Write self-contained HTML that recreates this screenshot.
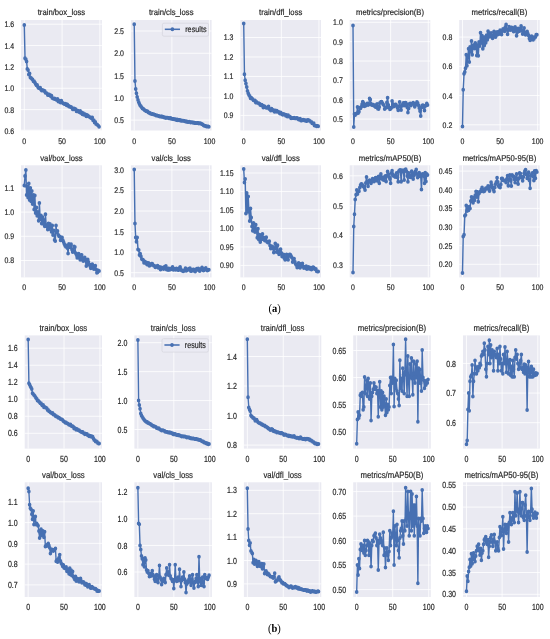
<!DOCTYPE html>
<html lang="en"><head><meta charset="utf-8"><title>Training results</title>
<style>html,body{margin:0;padding:0;background:#fff}body{width:550px;height:639px;overflow:hidden}</style>
</head><body>
<svg width="550" height="639" viewBox="0 0 550 639" style="display:block">
<rect width="550" height="639" fill="#ffffff"/>
<g font-family="'Liberation Sans', Arial, sans-serif" fill="#262626" stroke="#262626" stroke-width="0.18" text-rendering="geometricPrecision">
<g>
<rect x="21.00" y="20.00" width="80.90" height="110.50" fill="#eaeaf2" stroke="none"/>
<path d="M24.30 20.00V130.50M62.08 20.00V130.50M99.86 20.00V130.50M21.00 130.20H101.90M21.00 109.64H101.90M21.00 88.28H101.90M21.00 66.92H101.90M21.00 45.56H101.90M21.00 24.20H101.90" stroke="#ffffff" stroke-width="0.8" fill="none"/>
<g transform="scale(0.92 1)" fill="none" stroke="#4770b2" stroke-linecap="round" stroke-linejoin="round">
<polyline points="26.4,25.1 27.2,58.3 28.1,59.2 28.9,61.6 29.7,68.9 30.5,70.0 31.3,74.4 32.2,73.5 33.0,77.6 33.8,78.0 34.6,78.8 35.4,79.5 36.3,81.2 37.1,81.3 37.9,82.5 38.7,84.0 39.6,85.2 40.4,85.1 41.2,86.9 42.0,88.1 42.8,88.0 43.7,87.8 44.5,89.5 45.3,90.4 46.1,90.3 46.9,90.3 47.8,91.0 48.6,91.1 49.4,92.8 50.2,93.1 51.1,93.6 51.9,95.0 52.7,95.1 53.5,94.5 54.3,95.1 55.2,96.3 56.0,95.7 56.8,98.1 57.6,98.3 58.4,98.7 59.3,98.5 60.1,99.2 60.9,99.2 61.7,99.9 62.5,99.1 63.4,101.4 64.2,101.3 65.0,100.8 65.8,102.5 66.7,100.8 67.5,102.4 68.3,102.9 69.1,103.6 69.9,104.0 70.8,103.8 71.6,104.0 72.4,105.3 73.2,104.4 74.0,105.6 74.9,106.6 75.7,106.6 76.5,106.9 77.3,107.1 78.2,107.7 79.0,109.2 79.8,109.2 80.6,108.6 81.4,109.0 82.3,109.2 83.1,111.2 83.9,111.1 84.7,110.8 85.5,111.7 86.4,112.3 87.2,110.9 88.0,112.9 88.8,112.5 89.6,114.2 90.5,113.3 91.3,114.8 92.1,114.3 92.9,114.4 93.8,116.3 94.6,115.1 95.4,115.5 96.2,116.2 97.0,116.8 97.9,117.2 98.7,117.8 99.5,118.2 100.3,117.4 101.1,120.2 102.0,120.2 102.8,122.5 103.6,122.0 104.4,123.9 105.3,124.6 106.1,125.1 106.9,125.8 107.7,126.7" stroke-width="1.55"/>
<path d="M26.4 25.1h0M27.2 58.3h0M28.1 59.2h0M28.9 61.6h0M29.7 68.9h0M30.5 70.0h0M31.3 74.4h0M32.2 73.5h0M33.0 77.6h0M33.8 78.0h0M34.6 78.8h0M35.4 79.5h0M36.3 81.2h0M37.1 81.3h0M37.9 82.5h0M38.7 84.0h0M39.6 85.2h0M40.4 85.1h0M41.2 86.9h0M42.0 88.1h0M42.8 88.0h0M43.7 87.8h0M44.5 89.5h0M45.3 90.4h0M46.1 90.3h0M46.9 90.3h0M47.8 91.0h0M48.6 91.1h0M49.4 92.8h0M50.2 93.1h0M51.1 93.6h0M51.9 95.0h0M52.7 95.1h0M53.5 94.5h0M54.3 95.1h0M55.2 96.3h0M56.0 95.7h0M56.8 98.1h0M57.6 98.3h0M58.4 98.7h0M59.3 98.5h0M60.1 99.2h0M60.9 99.2h0M61.7 99.9h0M62.5 99.1h0M63.4 101.4h0M64.2 101.3h0M65.0 100.8h0M65.8 102.5h0M66.7 100.8h0M67.5 102.4h0M68.3 102.9h0M69.1 103.6h0M69.9 104.0h0M70.8 103.8h0M71.6 104.0h0M72.4 105.3h0M73.2 104.4h0M74.0 105.6h0M74.9 106.6h0M75.7 106.6h0M76.5 106.9h0M77.3 107.1h0M78.2 107.7h0M79.0 109.2h0M79.8 109.2h0M80.6 108.6h0M81.4 109.0h0M82.3 109.2h0M83.1 111.2h0M83.9 111.1h0M84.7 110.8h0M85.5 111.7h0M86.4 112.3h0M87.2 110.9h0M88.0 112.9h0M88.8 112.5h0M89.6 114.2h0M90.5 113.3h0M91.3 114.8h0M92.1 114.3h0M92.9 114.4h0M93.8 116.3h0M94.6 115.1h0M95.4 115.5h0M96.2 116.2h0M97.0 116.8h0M97.9 117.2h0M98.7 117.8h0M99.5 118.2h0M100.3 117.4h0M101.1 120.2h0M102.0 120.2h0M102.8 122.5h0M103.6 122.0h0M104.4 123.9h0M105.3 124.6h0M106.1 125.1h0M106.9 125.8h0M107.7 126.7h0" stroke-width="4.0"/>
</g>
<g font-size="8.2" text-anchor="end">
<text transform="translate(14.10 133.95) scale(0.85 1)">0.6</text>
<text transform="translate(14.10 112.59) scale(0.85 1)">0.8</text>
<text transform="translate(14.10 91.23) scale(0.85 1)">1.0</text>
<text transform="translate(14.10 69.87) scale(0.85 1)">1.2</text>
<text transform="translate(14.10 48.51) scale(0.85 1)">1.4</text>
<text transform="translate(14.10 27.15) scale(0.85 1)">1.6</text>
</g>
<g font-size="8.2" text-anchor="middle">
<text transform="translate(24.30 144.20) scale(0.85 1)">0</text>
<text transform="translate(62.08 144.20) scale(0.85 1)">50</text>
<text transform="translate(99.86 144.20) scale(0.85 1)">100</text>
</g>
<text transform="translate(61.45 14.80) scale(0.92 1)" font-size="8.4" text-anchor="middle">train/box_loss</text>
</g>
<g>
<rect x="130.90" y="20.00" width="80.70" height="110.50" fill="#eaeaf2" stroke="none"/>
<path d="M134.20 20.00V130.50M171.88 20.00V130.50M209.55 20.00V130.50M130.90 120.10H211.60M130.90 97.82H211.60M130.90 75.55H211.60M130.90 53.27H211.60M130.90 31.00H211.60" stroke="#ffffff" stroke-width="0.8" fill="none"/>
<g transform="scale(0.92 1)" fill="none" stroke="#4770b2" stroke-linecap="round" stroke-linejoin="round">
<polyline points="145.9,24.2 146.7,80.9 147.5,88.9 148.3,93.3 149.1,96.9 150.0,100.1 150.8,102.2 151.6,104.0 152.4,105.6 153.2,106.3 154.1,107.6 154.9,108.4 155.7,108.8 156.5,109.6 157.3,110.3 158.2,110.7 159.0,111.2 159.8,111.3 160.6,111.6 161.4,112.4 162.3,113.0 163.1,112.9 163.9,113.8 164.7,114.0 165.5,114.1 166.3,114.2 167.2,114.5 168.0,114.8 168.8,115.0 169.6,115.4 170.4,115.6 171.3,115.8 172.1,116.1 172.9,116.3 173.7,116.5 174.5,116.4 175.4,116.7 176.2,116.6 177.0,117.0 177.8,116.9 178.6,117.5 179.5,117.5 180.3,117.9 181.1,117.8 181.9,117.8 182.7,118.1 183.5,118.2 184.4,118.2 185.2,118.1 186.0,118.7 186.8,118.8 187.6,119.0 188.5,119.0 189.3,119.3 190.1,119.3 190.9,119.4 191.7,119.9 192.6,119.5 193.4,120.2 194.2,120.1 195.0,120.3 195.8,120.1 196.7,120.7 197.5,120.7 198.3,120.7 199.1,120.8 199.9,121.1 200.7,120.9 201.6,121.6 202.4,121.7 203.2,121.6 204.0,121.9 204.8,122.1 205.7,121.7 206.5,121.9 207.3,122.6 208.1,122.2 208.9,122.2 209.8,122.7 210.6,122.4 211.4,122.9 212.2,123.0 213.0,123.0 213.9,123.0 214.7,123.1 215.5,123.2 216.3,123.5 217.1,123.2 217.9,123.4 218.8,123.7 219.6,124.3 220.4,124.5 221.2,125.2 222.0,125.7 222.9,125.9 223.7,126.1 224.5,126.6 225.3,126.6 226.1,126.5 227.0,126.8" stroke-width="1.55"/>
<path d="M145.9 24.2h0M146.7 80.9h0M147.5 88.9h0M148.3 93.3h0M149.1 96.9h0M150.0 100.1h0M150.8 102.2h0M151.6 104.0h0M152.4 105.6h0M153.2 106.3h0M154.1 107.6h0M154.9 108.4h0M155.7 108.8h0M156.5 109.6h0M157.3 110.3h0M158.2 110.7h0M159.0 111.2h0M159.8 111.3h0M160.6 111.6h0M161.4 112.4h0M162.3 113.0h0M163.1 112.9h0M163.9 113.8h0M164.7 114.0h0M165.5 114.1h0M166.3 114.2h0M167.2 114.5h0M168.0 114.8h0M168.8 115.0h0M169.6 115.4h0M170.4 115.6h0M171.3 115.8h0M172.1 116.1h0M172.9 116.3h0M173.7 116.5h0M174.5 116.4h0M175.4 116.7h0M176.2 116.6h0M177.0 117.0h0M177.8 116.9h0M178.6 117.5h0M179.5 117.5h0M180.3 117.9h0M181.1 117.8h0M181.9 117.8h0M182.7 118.1h0M183.5 118.2h0M184.4 118.2h0M185.2 118.1h0M186.0 118.7h0M186.8 118.8h0M187.6 119.0h0M188.5 119.0h0M189.3 119.3h0M190.1 119.3h0M190.9 119.4h0M191.7 119.9h0M192.6 119.5h0M193.4 120.2h0M194.2 120.1h0M195.0 120.3h0M195.8 120.1h0M196.7 120.7h0M197.5 120.7h0M198.3 120.7h0M199.1 120.8h0M199.9 121.1h0M200.7 120.9h0M201.6 121.6h0M202.4 121.7h0M203.2 121.6h0M204.0 121.9h0M204.8 122.1h0M205.7 121.7h0M206.5 121.9h0M207.3 122.6h0M208.1 122.2h0M208.9 122.2h0M209.8 122.7h0M210.6 122.4h0M211.4 122.9h0M212.2 123.0h0M213.0 123.0h0M213.9 123.0h0M214.7 123.1h0M215.5 123.2h0M216.3 123.5h0M217.1 123.2h0M217.9 123.4h0M218.8 123.7h0M219.6 124.3h0M220.4 124.5h0M221.2 125.2h0M222.0 125.7h0M222.9 125.9h0M223.7 126.1h0M224.5 126.6h0M225.3 126.6h0M226.1 126.5h0M227.0 126.8h0" stroke-width="4.0"/>
</g>
<g font-size="8.2" text-anchor="end">
<text transform="translate(124.00 123.05) scale(0.85 1)">0.5</text>
<text transform="translate(124.00 100.78) scale(0.85 1)">1.0</text>
<text transform="translate(124.00 78.50) scale(0.85 1)">1.5</text>
<text transform="translate(124.00 56.23) scale(0.85 1)">2.0</text>
<text transform="translate(124.00 33.95) scale(0.85 1)">2.5</text>
</g>
<g font-size="8.2" text-anchor="middle">
<text transform="translate(134.20 144.20) scale(0.85 1)">0</text>
<text transform="translate(171.88 144.20) scale(0.85 1)">50</text>
<text transform="translate(209.55 144.20) scale(0.85 1)">100</text>
</g>
<text transform="translate(171.25 14.80) scale(0.92 1)" font-size="8.4" text-anchor="middle">train/cls_loss</text>
<rect x="162.40" y="23.20" width="46.10" height="13.00" rx="1.5" fill="#eaeaf2" fill-opacity="0.8" stroke="#d0d0d8" stroke-width="0.6"/>
<path d="M164.80 29.30h15.2" stroke="#4770b2" stroke-width="1.55" fill="none"/>
<ellipse cx="172.40" cy="29.30" rx="1.84" ry="2.0" fill="#4770b2" stroke="none"/>
<text transform="translate(185.20 32.09) scale(0.886 1)" font-size="8.2">results</text>
</g>
<g>
<rect x="240.40" y="20.00" width="80.60" height="110.50" fill="#eaeaf2" stroke="none"/>
<path d="M243.70 20.00V130.50M281.33 20.00V130.50M318.95 20.00V130.50M240.40 115.40H321.00M240.40 95.93H321.00M240.40 76.45H321.00M240.40 56.97H321.00M240.40 37.50H321.00" stroke="#ffffff" stroke-width="0.8" fill="none"/>
<g transform="scale(0.92 1)" fill="none" stroke="#4770b2" stroke-linecap="round" stroke-linejoin="round">
<polyline points="264.9,23.6 265.7,74.3 266.5,80.2 267.3,83.4 268.2,86.9 269.0,91.0 269.8,93.3 270.6,95.1 271.4,96.0 272.3,98.2 273.1,97.7 273.9,98.5 274.7,99.3 275.5,100.3 276.3,100.5 277.2,100.6 278.0,102.4 278.8,101.9 279.6,102.8 280.4,103.1 281.3,103.5 282.1,103.8 282.9,104.9 283.7,105.2 284.5,104.8 285.3,105.6 286.2,107.5 287.0,106.2 287.8,106.4 288.6,107.2 289.4,107.7 290.2,107.7 291.1,107.6 291.9,106.5 292.7,109.1 293.5,109.2 294.3,110.5 295.2,108.8 296.0,109.7 296.8,110.6 297.6,110.3 298.4,111.7 299.2,110.6 300.1,111.7 300.9,110.8 301.7,111.6 302.5,111.7 303.3,112.6 304.2,113.5 305.0,112.5 305.8,113.2 306.6,114.2 307.4,114.8 308.2,114.0 309.1,114.6 309.9,114.8 310.7,115.8 311.5,114.9 312.3,116.5 313.2,115.2 314.0,116.4 314.8,116.6 315.6,116.9 316.4,118.2 317.2,118.1 318.1,118.1 318.9,117.9 319.7,117.7 320.5,118.2 321.3,118.3 322.1,118.2 323.0,117.9 323.8,118.7 324.6,119.6 325.4,119.5 326.2,118.7 327.1,120.5 327.9,120.5 328.7,119.9 329.5,119.8 330.3,120.3 331.1,120.5 332.0,120.3 332.8,121.0 333.6,121.1 334.4,120.0 335.2,120.2 336.1,120.5 336.9,121.1 337.7,121.7 338.5,122.1 339.3,123.3 340.1,123.5 341.0,123.2 341.8,125.4 342.6,125.8 343.4,125.8 344.2,126.2 345.1,125.9 345.9,126.2" stroke-width="1.55"/>
<path d="M264.9 23.6h0M265.7 74.3h0M266.5 80.2h0M267.3 83.4h0M268.2 86.9h0M269.0 91.0h0M269.8 93.3h0M270.6 95.1h0M271.4 96.0h0M272.3 98.2h0M273.1 97.7h0M273.9 98.5h0M274.7 99.3h0M275.5 100.3h0M276.3 100.5h0M277.2 100.6h0M278.0 102.4h0M278.8 101.9h0M279.6 102.8h0M280.4 103.1h0M281.3 103.5h0M282.1 103.8h0M282.9 104.9h0M283.7 105.2h0M284.5 104.8h0M285.3 105.6h0M286.2 107.5h0M287.0 106.2h0M287.8 106.4h0M288.6 107.2h0M289.4 107.7h0M290.2 107.7h0M291.1 107.6h0M291.9 106.5h0M292.7 109.1h0M293.5 109.2h0M294.3 110.5h0M295.2 108.8h0M296.0 109.7h0M296.8 110.6h0M297.6 110.3h0M298.4 111.7h0M299.2 110.6h0M300.1 111.7h0M300.9 110.8h0M301.7 111.6h0M302.5 111.7h0M303.3 112.6h0M304.2 113.5h0M305.0 112.5h0M305.8 113.2h0M306.6 114.2h0M307.4 114.8h0M308.2 114.0h0M309.1 114.6h0M309.9 114.8h0M310.7 115.8h0M311.5 114.9h0M312.3 116.5h0M313.2 115.2h0M314.0 116.4h0M314.8 116.6h0M315.6 116.9h0M316.4 118.2h0M317.2 118.1h0M318.1 118.1h0M318.9 117.9h0M319.7 117.7h0M320.5 118.2h0M321.3 118.3h0M322.1 118.2h0M323.0 117.9h0M323.8 118.7h0M324.6 119.6h0M325.4 119.5h0M326.2 118.7h0M327.1 120.5h0M327.9 120.5h0M328.7 119.9h0M329.5 119.8h0M330.3 120.3h0M331.1 120.5h0M332.0 120.3h0M332.8 121.0h0M333.6 121.1h0M334.4 120.0h0M335.2 120.2h0M336.1 120.5h0M336.9 121.1h0M337.7 121.7h0M338.5 122.1h0M339.3 123.3h0M340.1 123.5h0M341.0 123.2h0M341.8 125.4h0M342.6 125.8h0M343.4 125.8h0M344.2 126.2h0M345.1 125.9h0M345.9 126.2h0" stroke-width="4.0"/>
</g>
<g font-size="8.2" text-anchor="end">
<text transform="translate(233.50 118.35) scale(0.85 1)">0.9</text>
<text transform="translate(233.50 98.88) scale(0.85 1)">1.0</text>
<text transform="translate(233.50 79.40) scale(0.85 1)">1.1</text>
<text transform="translate(233.50 59.93) scale(0.85 1)">1.2</text>
<text transform="translate(233.50 40.45) scale(0.85 1)">1.3</text>
</g>
<g font-size="8.2" text-anchor="middle">
<text transform="translate(243.70 144.20) scale(0.85 1)">0</text>
<text transform="translate(281.33 144.20) scale(0.85 1)">50</text>
<text transform="translate(318.95 144.20) scale(0.85 1)">100</text>
</g>
<text transform="translate(280.70 14.80) scale(0.92 1)" font-size="8.4" text-anchor="middle">train/dfl_loss</text>
</g>
<g>
<rect x="349.70" y="20.00" width="80.60" height="110.50" fill="#eaeaf2" stroke="none"/>
<path d="M353.00 20.00V130.50M390.63 20.00V130.50M428.25 20.00V130.50M349.70 119.10H430.30M349.70 99.74H430.30M349.70 80.38H430.30M349.70 61.02H430.30M349.70 41.66H430.30M349.70 22.30H430.30" stroke="#ffffff" stroke-width="0.8" fill="none"/>
<g transform="scale(0.92 1)" fill="none" stroke="#4770b2" stroke-linecap="round" stroke-linejoin="round">
<polyline points="383.7,25.6 384.5,126.9 385.3,114.1 386.1,115.0 387.0,113.7 387.8,113.4 388.6,106.9 389.4,113.1 390.2,111.7 391.1,107.7 391.9,108.3 392.7,106.7 393.5,104.2 394.3,101.8 395.1,103.1 396.0,106.2 396.8,106.1 397.6,105.6 398.4,104.3 399.2,103.5 400.1,105.1 400.9,104.2 401.7,98.6 402.5,99.4 403.3,103.7 404.1,105.0 405.0,104.9 405.8,104.8 406.6,105.8 407.4,106.2 408.2,106.9 409.1,104.7 409.9,103.9 410.7,108.7 411.5,109.1 412.3,106.9 413.1,102.8 414.0,102.1 414.8,101.8 415.6,102.9 416.4,104.3 417.2,105.0 418.1,109.1 418.9,108.1 419.7,107.8 420.5,102.5 421.3,97.7 422.1,105.0 423.0,107.4 423.8,109.2 424.6,108.7 425.4,107.7 426.2,101.1 427.0,103.9 427.9,106.6 428.7,105.2 429.5,104.7 430.3,104.5 431.1,105.9 432.0,107.8 432.8,110.2 433.6,106.4 434.4,102.0 435.2,106.8 436.0,110.0 436.9,105.7 437.7,104.4 438.5,103.1 439.3,105.5 440.1,103.1 441.0,102.7 441.8,103.9 442.6,107.3 443.4,112.5 444.2,108.6 445.0,103.9 445.9,103.5 446.7,105.6 447.5,103.8 448.3,103.4 449.1,102.8 450.0,104.0 450.8,106.8 451.6,105.1 452.4,103.6 453.2,101.9 454.0,103.1 454.9,105.2 455.7,108.1 456.5,111.1 457.3,116.1 458.1,107.5 458.9,105.4 459.8,105.2 460.6,107.0 461.4,110.6 462.2,106.1 463.0,105.5 463.9,103.5 464.7,104.9" stroke-width="1.55"/>
<path d="M383.7 25.6h0M384.5 126.9h0M385.3 114.1h0M386.1 115.0h0M387.0 113.7h0M387.8 113.4h0M388.6 106.9h0M389.4 113.1h0M390.2 111.7h0M391.1 107.7h0M391.9 108.3h0M392.7 106.7h0M393.5 104.2h0M394.3 101.8h0M395.1 103.1h0M396.0 106.2h0M396.8 106.1h0M397.6 105.6h0M398.4 104.3h0M399.2 103.5h0M400.1 105.1h0M400.9 104.2h0M401.7 98.6h0M402.5 99.4h0M403.3 103.7h0M404.1 105.0h0M405.0 104.9h0M405.8 104.8h0M406.6 105.8h0M407.4 106.2h0M408.2 106.9h0M409.1 104.7h0M409.9 103.9h0M410.7 108.7h0M411.5 109.1h0M412.3 106.9h0M413.1 102.8h0M414.0 102.1h0M414.8 101.8h0M415.6 102.9h0M416.4 104.3h0M417.2 105.0h0M418.1 109.1h0M418.9 108.1h0M419.7 107.8h0M420.5 102.5h0M421.3 97.7h0M422.1 105.0h0M423.0 107.4h0M423.8 109.2h0M424.6 108.7h0M425.4 107.7h0M426.2 101.1h0M427.0 103.9h0M427.9 106.6h0M428.7 105.2h0M429.5 104.7h0M430.3 104.5h0M431.1 105.9h0M432.0 107.8h0M432.8 110.2h0M433.6 106.4h0M434.4 102.0h0M435.2 106.8h0M436.0 110.0h0M436.9 105.7h0M437.7 104.4h0M438.5 103.1h0M439.3 105.5h0M440.1 103.1h0M441.0 102.7h0M441.8 103.9h0M442.6 107.3h0M443.4 112.5h0M444.2 108.6h0M445.0 103.9h0M445.9 103.5h0M446.7 105.6h0M447.5 103.8h0M448.3 103.4h0M449.1 102.8h0M450.0 104.0h0M450.8 106.8h0M451.6 105.1h0M452.4 103.6h0M453.2 101.9h0M454.0 103.1h0M454.9 105.2h0M455.7 108.1h0M456.5 111.1h0M457.3 116.1h0M458.1 107.5h0M458.9 105.4h0M459.8 105.2h0M460.6 107.0h0M461.4 110.6h0M462.2 106.1h0M463.0 105.5h0M463.9 103.5h0M464.7 104.9h0" stroke-width="4.0"/>
</g>
<g font-size="8.2" text-anchor="end">
<text transform="translate(342.80 122.05) scale(0.85 1)">0.5</text>
<text transform="translate(342.80 102.69) scale(0.85 1)">0.6</text>
<text transform="translate(342.80 83.33) scale(0.85 1)">0.7</text>
<text transform="translate(342.80 63.97) scale(0.85 1)">0.8</text>
<text transform="translate(342.80 44.61) scale(0.85 1)">0.9</text>
<text transform="translate(342.80 25.25) scale(0.85 1)">1.0</text>
</g>
<g font-size="8.2" text-anchor="middle">
<text transform="translate(353.00 144.20) scale(0.85 1)">0</text>
<text transform="translate(390.63 144.20) scale(0.85 1)">50</text>
<text transform="translate(428.25 144.20) scale(0.85 1)">100</text>
</g>
<text transform="translate(390.00 14.80) scale(0.92 1)" font-size="8.4" text-anchor="middle">metrics/precision(B)</text>
</g>
<g>
<rect x="459.20" y="20.00" width="80.50" height="110.50" fill="#eaeaf2" stroke="none"/>
<path d="M462.50 20.00V130.50M500.08 20.00V130.50M537.65 20.00V130.50M459.20 124.80H539.70M459.20 95.55H539.70M459.20 66.30H539.70M459.20 37.05H539.70" stroke="#ffffff" stroke-width="0.8" fill="none"/>
<g transform="scale(0.92 1)" fill="none" stroke="#4770b2" stroke-linecap="round" stroke-linejoin="round">
<polyline points="502.7,126.4 503.5,89.8 504.4,73.8 505.2,71.9 506.0,68.3 506.8,54.8 507.6,65.7 508.4,57.6 509.3,48.8 510.1,61.9 510.9,47.0 511.7,51.8 512.5,41.1 513.3,54.7 514.2,45.6 515.0,45.1 515.8,48.6 516.6,43.1 517.4,44.3 518.2,55.5 519.1,45.6 519.9,55.7 520.7,41.9 521.5,46.0 522.3,32.8 523.1,43.1 524.0,35.8 524.8,48.7 525.6,38.2 526.4,45.4 527.2,37.1 528.0,42.8 528.9,35.2 529.7,39.7 530.5,31.3 531.3,34.3 532.1,36.8 532.9,34.5 533.8,32.9 534.6,36.2 535.4,38.3 536.2,35.5 537.0,31.4 537.8,34.2 538.7,37.1 539.5,35.3 540.3,32.1 541.1,33.2 541.9,34.3 542.7,31.6 543.6,30.3 544.4,31.8 545.2,34.6 546.0,31.1 546.8,28.9 547.6,30.3 548.5,31.2 549.3,27.1 550.1,24.6 550.9,29.4 551.7,34.3 552.5,30.3 553.4,26.7 554.2,29.4 555.0,29.9 555.8,27.4 556.6,27.8 557.4,28.9 558.3,31.6 559.1,28.7 559.9,27.0 560.7,30.5 561.5,35.7 562.3,32.2 563.2,28.5 564.0,30.6 564.8,31.1 565.6,28.8 566.4,26.0 567.2,30.2 568.1,34.0 568.9,32.0 569.7,28.0 570.5,32.5 571.3,34.8 572.2,33.3 573.0,31.4 573.8,33.7 574.6,35.5 575.4,38.5 576.2,40.2 577.1,37.2 577.9,36.3 578.7,37.9 579.5,39.7 580.3,39.0 581.1,37.0 582.0,36.9 582.8,34.8 583.6,34.8" stroke-width="1.55"/>
<path d="M502.7 126.4h0M503.5 89.8h0M504.4 73.8h0M505.2 71.9h0M506.0 68.3h0M506.8 54.8h0M507.6 65.7h0M508.4 57.6h0M509.3 48.8h0M510.1 61.9h0M510.9 47.0h0M511.7 51.8h0M512.5 41.1h0M513.3 54.7h0M514.2 45.6h0M515.0 45.1h0M515.8 48.6h0M516.6 43.1h0M517.4 44.3h0M518.2 55.5h0M519.1 45.6h0M519.9 55.7h0M520.7 41.9h0M521.5 46.0h0M522.3 32.8h0M523.1 43.1h0M524.0 35.8h0M524.8 48.7h0M525.6 38.2h0M526.4 45.4h0M527.2 37.1h0M528.0 42.8h0M528.9 35.2h0M529.7 39.7h0M530.5 31.3h0M531.3 34.3h0M532.1 36.8h0M532.9 34.5h0M533.8 32.9h0M534.6 36.2h0M535.4 38.3h0M536.2 35.5h0M537.0 31.4h0M537.8 34.2h0M538.7 37.1h0M539.5 35.3h0M540.3 32.1h0M541.1 33.2h0M541.9 34.3h0M542.7 31.6h0M543.6 30.3h0M544.4 31.8h0M545.2 34.6h0M546.0 31.1h0M546.8 28.9h0M547.6 30.3h0M548.5 31.2h0M549.3 27.1h0M550.1 24.6h0M550.9 29.4h0M551.7 34.3h0M552.5 30.3h0M553.4 26.7h0M554.2 29.4h0M555.0 29.9h0M555.8 27.4h0M556.6 27.8h0M557.4 28.9h0M558.3 31.6h0M559.1 28.7h0M559.9 27.0h0M560.7 30.5h0M561.5 35.7h0M562.3 32.2h0M563.2 28.5h0M564.0 30.6h0M564.8 31.1h0M565.6 28.8h0M566.4 26.0h0M567.2 30.2h0M568.1 34.0h0M568.9 32.0h0M569.7 28.0h0M570.5 32.5h0M571.3 34.8h0M572.2 33.3h0M573.0 31.4h0M573.8 33.7h0M574.6 35.5h0M575.4 38.5h0M576.2 40.2h0M577.1 37.2h0M577.9 36.3h0M578.7 37.9h0M579.5 39.7h0M580.3 39.0h0M581.1 37.0h0M582.0 36.9h0M582.8 34.8h0M583.6 34.8h0" stroke-width="4.0"/>
</g>
<g font-size="8.2" text-anchor="end">
<text transform="translate(452.30 127.75) scale(0.85 1)">0.2</text>
<text transform="translate(452.30 98.50) scale(0.85 1)">0.4</text>
<text transform="translate(452.30 69.25) scale(0.85 1)">0.6</text>
<text transform="translate(452.30 40.00) scale(0.85 1)">0.8</text>
</g>
<g font-size="8.2" text-anchor="middle">
<text transform="translate(462.50 144.20) scale(0.85 1)">0</text>
<text transform="translate(500.08 144.20) scale(0.85 1)">50</text>
<text transform="translate(537.65 144.20) scale(0.85 1)">100</text>
</g>
<text transform="translate(499.45 14.80) scale(0.92 1)" font-size="8.4" text-anchor="middle">metrics/recall(B)</text>
</g>
<g>
<rect x="21.00" y="165.30" width="80.90" height="112.10" fill="#eaeaf2" stroke="none"/>
<path d="M24.30 165.30V277.40M62.08 165.30V277.40M99.86 165.30V277.40M21.00 260.50H101.90M21.00 236.30H101.90M21.00 212.10H101.90M21.00 187.90H101.90" stroke="#ffffff" stroke-width="0.8" fill="none"/>
<g transform="scale(0.92 1)" fill="none" stroke="#4770b2" stroke-linecap="round" stroke-linejoin="round">
<polyline points="26.4,185.6 27.2,176.0 28.1,170.0 28.9,195.1 29.7,186.4 30.5,197.6 31.3,183.5 32.2,199.9 33.0,188.1 33.8,201.3 34.6,191.0 35.4,204.1 36.3,195.0 37.1,209.4 37.9,195.6 38.7,212.9 39.6,207.6 40.4,215.7 41.2,211.9 42.0,220.7 42.8,202.9 43.7,219.3 44.5,215.5 45.3,223.5 46.1,217.0 46.9,223.8 47.8,220.0 48.6,226.2 49.4,214.3 50.2,225.2 51.1,226.6 51.9,229.6 52.7,223.4 53.5,229.0 54.3,224.0 55.2,226.5 56.0,231.8 56.8,225.4 57.6,235.0 58.4,230.5 59.3,240.0 60.1,241.0 60.9,225.6 61.7,232.6 62.5,230.9 63.4,234.9 64.2,236.3 65.0,236.6 65.8,240.2 66.7,239.5 67.5,237.4 68.3,240.3 69.1,241.9 69.9,244.1 70.8,245.7 71.6,246.8 72.4,245.5 73.2,247.9 74.0,253.4 74.9,243.9 75.7,247.1 76.5,246.2 77.3,244.2 78.2,249.5 79.0,252.1 79.8,250.9 80.6,246.4 81.4,247.1 82.3,253.2 83.1,255.1 83.9,257.8 84.7,257.1 85.5,253.8 86.4,256.1 87.2,259.8 88.0,255.2 88.8,255.1 89.6,258.4 90.5,260.9 91.3,259.4 92.1,257.6 92.9,260.8 93.8,266.1 94.6,262.4 95.4,259.4 96.2,261.9 97.0,264.4 97.9,265.9 98.7,268.2 99.5,267.1 100.3,264.3 101.1,265.7 102.0,268.9 102.8,267.2 103.6,265.7 104.4,269.4 105.3,272.8 106.1,272.3 106.9,270.4 107.7,270.9" stroke-width="1.55"/>
<path d="M26.4 185.6h0M27.2 176.0h0M28.1 170.0h0M28.9 195.1h0M29.7 186.4h0M30.5 197.6h0M31.3 183.5h0M32.2 199.9h0M33.0 188.1h0M33.8 201.3h0M34.6 191.0h0M35.4 204.1h0M36.3 195.0h0M37.1 209.4h0M37.9 195.6h0M38.7 212.9h0M39.6 207.6h0M40.4 215.7h0M41.2 211.9h0M42.0 220.7h0M42.8 202.9h0M43.7 219.3h0M44.5 215.5h0M45.3 223.5h0M46.1 217.0h0M46.9 223.8h0M47.8 220.0h0M48.6 226.2h0M49.4 214.3h0M50.2 225.2h0M51.1 226.6h0M51.9 229.6h0M52.7 223.4h0M53.5 229.0h0M54.3 224.0h0M55.2 226.5h0M56.0 231.8h0M56.8 225.4h0M57.6 235.0h0M58.4 230.5h0M59.3 240.0h0M60.1 241.0h0M60.9 225.6h0M61.7 232.6h0M62.5 230.9h0M63.4 234.9h0M64.2 236.3h0M65.0 236.6h0M65.8 240.2h0M66.7 239.5h0M67.5 237.4h0M68.3 240.3h0M69.1 241.9h0M69.9 244.1h0M70.8 245.7h0M71.6 246.8h0M72.4 245.5h0M73.2 247.9h0M74.0 253.4h0M74.9 243.9h0M75.7 247.1h0M76.5 246.2h0M77.3 244.2h0M78.2 249.5h0M79.0 252.1h0M79.8 250.9h0M80.6 246.4h0M81.4 247.1h0M82.3 253.2h0M83.1 255.1h0M83.9 257.8h0M84.7 257.1h0M85.5 253.8h0M86.4 256.1h0M87.2 259.8h0M88.0 255.2h0M88.8 255.1h0M89.6 258.4h0M90.5 260.9h0M91.3 259.4h0M92.1 257.6h0M92.9 260.8h0M93.8 266.1h0M94.6 262.4h0M95.4 259.4h0M96.2 261.9h0M97.0 264.4h0M97.9 265.9h0M98.7 268.2h0M99.5 267.1h0M100.3 264.3h0M101.1 265.7h0M102.0 268.9h0M102.8 267.2h0M103.6 265.7h0M104.4 269.4h0M105.3 272.8h0M106.1 272.3h0M106.9 270.4h0M107.7 270.9h0" stroke-width="4.0"/>
</g>
<g font-size="8.2" text-anchor="end">
<text transform="translate(14.10 263.45) scale(0.85 1)">0.8</text>
<text transform="translate(14.10 239.25) scale(0.85 1)">0.9</text>
<text transform="translate(14.10 215.05) scale(0.85 1)">1.0</text>
<text transform="translate(14.10 190.85) scale(0.85 1)">1.1</text>
</g>
<g font-size="8.2" text-anchor="middle">
<text transform="translate(24.30 290.40) scale(0.85 1)">0</text>
<text transform="translate(62.08 290.40) scale(0.85 1)">50</text>
<text transform="translate(99.86 290.40) scale(0.85 1)">100</text>
</g>
<text transform="translate(61.45 160.90) scale(0.92 1)" font-size="8.4" text-anchor="middle">val/box_loss</text>
</g>
<g>
<rect x="130.90" y="165.30" width="80.70" height="112.10" fill="#eaeaf2" stroke="none"/>
<path d="M134.20 165.30V277.40M171.88 165.30V277.40M209.55 165.30V277.40M130.90 272.70H211.60M130.90 252.14H211.60M130.90 231.58H211.60M130.90 211.02H211.60M130.90 190.46H211.60M130.90 169.90H211.60" stroke="#ffffff" stroke-width="0.8" fill="none"/>
<g transform="scale(0.92 1)" fill="none" stroke="#4770b2" stroke-linecap="round" stroke-linejoin="round">
<polyline points="145.9,169.4 146.7,223.6 147.5,237.6 148.3,241.7 149.1,237.6 150.0,249.4 150.8,250.0 151.6,255.0 152.4,253.8 153.2,256.2 154.1,259.1 154.9,259.6 155.7,260.0 156.5,262.7 157.3,261.5 158.2,263.0 159.0,262.5 159.8,264.4 160.6,264.2 161.4,263.1 162.3,265.7 163.1,265.5 163.9,264.7 164.7,263.8 165.5,263.8 166.3,265.0 167.2,265.8 168.0,265.9 168.8,267.3 169.6,267.0 170.4,266.3 171.3,265.7 172.1,267.8 172.9,266.9 173.7,266.9 174.5,269.4 175.4,267.5 176.2,267.9 177.0,268.5 177.8,269.1 178.6,266.9 179.5,267.2 180.3,266.1 181.1,269.5 181.9,268.5 182.7,270.1 183.5,268.6 184.4,269.7 185.2,269.0 186.0,269.2 186.8,267.9 187.6,267.0 188.5,269.7 189.3,268.9 190.1,269.2 190.9,269.7 191.7,268.5 192.6,269.2 193.4,270.1 194.2,270.0 195.0,268.0 195.8,267.1 196.7,269.3 197.5,270.4 198.3,270.8 199.1,271.3 199.9,271.0 200.7,270.0 201.6,268.3 202.4,270.7 203.2,270.3 204.0,269.8 204.8,268.9 205.7,268.7 206.5,268.3 207.3,271.0 208.1,271.0 208.9,270.3 209.8,269.6 210.6,269.4 211.4,271.0 212.2,271.4 213.0,270.0 213.9,268.8 214.7,269.5 215.5,268.6 216.3,270.4 217.1,271.1 217.9,269.8 218.8,268.8 219.6,267.6 220.4,269.8 221.2,270.4 222.0,269.1 222.9,269.6 223.7,267.9 224.5,269.5 225.3,270.6 226.1,270.3 227.0,269.7" stroke-width="1.55"/>
<path d="M145.9 169.4h0M146.7 223.6h0M147.5 237.6h0M148.3 241.7h0M149.1 237.6h0M150.0 249.4h0M150.8 250.0h0M151.6 255.0h0M152.4 253.8h0M153.2 256.2h0M154.1 259.1h0M154.9 259.6h0M155.7 260.0h0M156.5 262.7h0M157.3 261.5h0M158.2 263.0h0M159.0 262.5h0M159.8 264.4h0M160.6 264.2h0M161.4 263.1h0M162.3 265.7h0M163.1 265.5h0M163.9 264.7h0M164.7 263.8h0M165.5 263.8h0M166.3 265.0h0M167.2 265.8h0M168.0 265.9h0M168.8 267.3h0M169.6 267.0h0M170.4 266.3h0M171.3 265.7h0M172.1 267.8h0M172.9 266.9h0M173.7 266.9h0M174.5 269.4h0M175.4 267.5h0M176.2 267.9h0M177.0 268.5h0M177.8 269.1h0M178.6 266.9h0M179.5 267.2h0M180.3 266.1h0M181.1 269.5h0M181.9 268.5h0M182.7 270.1h0M183.5 268.6h0M184.4 269.7h0M185.2 269.0h0M186.0 269.2h0M186.8 267.9h0M187.6 267.0h0M188.5 269.7h0M189.3 268.9h0M190.1 269.2h0M190.9 269.7h0M191.7 268.5h0M192.6 269.2h0M193.4 270.1h0M194.2 270.0h0M195.0 268.0h0M195.8 267.1h0M196.7 269.3h0M197.5 270.4h0M198.3 270.8h0M199.1 271.3h0M199.9 271.0h0M200.7 270.0h0M201.6 268.3h0M202.4 270.7h0M203.2 270.3h0M204.0 269.8h0M204.8 268.9h0M205.7 268.7h0M206.5 268.3h0M207.3 271.0h0M208.1 271.0h0M208.9 270.3h0M209.8 269.6h0M210.6 269.4h0M211.4 271.0h0M212.2 271.4h0M213.0 270.0h0M213.9 268.8h0M214.7 269.5h0M215.5 268.6h0M216.3 270.4h0M217.1 271.1h0M217.9 269.8h0M218.8 268.8h0M219.6 267.6h0M220.4 269.8h0M221.2 270.4h0M222.0 269.1h0M222.9 269.6h0M223.7 267.9h0M224.5 269.5h0M225.3 270.6h0M226.1 270.3h0M227.0 269.7h0" stroke-width="4.0"/>
</g>
<g font-size="8.2" text-anchor="end">
<text transform="translate(124.00 275.65) scale(0.85 1)">0.5</text>
<text transform="translate(124.00 255.09) scale(0.85 1)">1.0</text>
<text transform="translate(124.00 234.53) scale(0.85 1)">1.5</text>
<text transform="translate(124.00 213.97) scale(0.85 1)">2.0</text>
<text transform="translate(124.00 193.41) scale(0.85 1)">2.5</text>
<text transform="translate(124.00 172.85) scale(0.85 1)">3.0</text>
</g>
<g font-size="8.2" text-anchor="middle">
<text transform="translate(134.20 290.40) scale(0.85 1)">0</text>
<text transform="translate(171.88 290.40) scale(0.85 1)">50</text>
<text transform="translate(209.55 290.40) scale(0.85 1)">100</text>
</g>
<text transform="translate(171.25 160.90) scale(0.92 1)" font-size="8.4" text-anchor="middle">val/cls_loss</text>
</g>
<g>
<rect x="240.40" y="165.30" width="80.60" height="112.10" fill="#eaeaf2" stroke="none"/>
<path d="M243.70 165.30V277.40M281.33 165.30V277.40M318.95 165.30V277.40M240.40 265.40H321.00M240.40 246.92H321.00M240.40 228.44H321.00M240.40 209.96H321.00M240.40 191.48H321.00M240.40 173.00H321.00" stroke="#ffffff" stroke-width="0.8" fill="none"/>
<g transform="scale(0.92 1)" fill="none" stroke="#4770b2" stroke-linecap="round" stroke-linejoin="round">
<polyline points="264.9,169.1 265.7,182.5 266.5,179.0 267.3,213.5 268.2,192.9 269.0,210.1 269.8,196.4 270.6,211.8 271.4,220.9 272.3,208.6 273.1,217.6 273.9,226.4 274.7,230.8 275.5,222.9 276.3,228.2 277.2,232.0 278.0,224.7 278.8,230.6 279.6,237.7 280.4,228.7 281.3,239.6 282.1,234.8 282.9,241.9 283.7,235.9 284.5,239.3 285.3,234.0 286.2,239.2 287.0,237.7 287.8,240.6 288.6,238.7 289.4,237.3 290.2,241.7 291.1,242.6 291.9,241.8 292.7,241.2 293.5,245.4 294.3,248.6 295.2,248.0 296.0,246.4 296.8,248.5 297.6,252.4 298.4,248.4 299.2,243.5 300.1,248.2 300.9,252.0 301.7,245.2 302.5,251.5 303.3,254.2 304.2,253.0 305.0,249.3 305.8,252.9 306.6,256.5 307.4,255.3 308.2,254.5 309.1,258.3 309.9,259.7 310.7,257.8 311.5,254.4 312.3,255.5 313.2,259.8 314.0,256.1 314.8,254.5 315.6,254.7 316.4,256.1 317.2,257.5 318.1,262.0 318.9,259.3 319.7,258.7 320.5,261.8 321.3,263.9 322.1,265.0 323.0,267.6 323.8,264.8 324.6,263.1 325.4,266.8 326.2,267.7 327.1,264.1 327.9,265.2 328.7,263.6 329.5,266.4 330.3,268.1 331.1,267.1 332.0,268.0 332.8,266.2 333.6,269.0 334.4,268.2 335.2,266.9 336.1,268.8 336.9,267.8 337.7,267.7 338.5,269.6 339.3,268.9 340.1,267.2 341.0,267.4 341.8,268.5 342.6,269.3 343.4,268.9 344.2,271.3 345.1,271.4 345.9,271.5" stroke-width="1.55"/>
<path d="M264.9 169.1h0M265.7 182.5h0M266.5 179.0h0M267.3 213.5h0M268.2 192.9h0M269.0 210.1h0M269.8 196.4h0M270.6 211.8h0M271.4 220.9h0M272.3 208.6h0M273.1 217.6h0M273.9 226.4h0M274.7 230.8h0M275.5 222.9h0M276.3 228.2h0M277.2 232.0h0M278.0 224.7h0M278.8 230.6h0M279.6 237.7h0M280.4 228.7h0M281.3 239.6h0M282.1 234.8h0M282.9 241.9h0M283.7 235.9h0M284.5 239.3h0M285.3 234.0h0M286.2 239.2h0M287.0 237.7h0M287.8 240.6h0M288.6 238.7h0M289.4 237.3h0M290.2 241.7h0M291.1 242.6h0M291.9 241.8h0M292.7 241.2h0M293.5 245.4h0M294.3 248.6h0M295.2 248.0h0M296.0 246.4h0M296.8 248.5h0M297.6 252.4h0M298.4 248.4h0M299.2 243.5h0M300.1 248.2h0M300.9 252.0h0M301.7 245.2h0M302.5 251.5h0M303.3 254.2h0M304.2 253.0h0M305.0 249.3h0M305.8 252.9h0M306.6 256.5h0M307.4 255.3h0M308.2 254.5h0M309.1 258.3h0M309.9 259.7h0M310.7 257.8h0M311.5 254.4h0M312.3 255.5h0M313.2 259.8h0M314.0 256.1h0M314.8 254.5h0M315.6 254.7h0M316.4 256.1h0M317.2 257.5h0M318.1 262.0h0M318.9 259.3h0M319.7 258.7h0M320.5 261.8h0M321.3 263.9h0M322.1 265.0h0M323.0 267.6h0M323.8 264.8h0M324.6 263.1h0M325.4 266.8h0M326.2 267.7h0M327.1 264.1h0M327.9 265.2h0M328.7 263.6h0M329.5 266.4h0M330.3 268.1h0M331.1 267.1h0M332.0 268.0h0M332.8 266.2h0M333.6 269.0h0M334.4 268.2h0M335.2 266.9h0M336.1 268.8h0M336.9 267.8h0M337.7 267.7h0M338.5 269.6h0M339.3 268.9h0M340.1 267.2h0M341.0 267.4h0M341.8 268.5h0M342.6 269.3h0M343.4 268.9h0M344.2 271.3h0M345.1 271.4h0M345.9 271.5h0" stroke-width="4.0"/>
</g>
<g font-size="8.2" text-anchor="end">
<text transform="translate(233.50 268.35) scale(0.85 1)">0.90</text>
<text transform="translate(233.50 249.87) scale(0.85 1)">0.95</text>
<text transform="translate(233.50 231.39) scale(0.85 1)">1.00</text>
<text transform="translate(233.50 212.91) scale(0.85 1)">1.05</text>
<text transform="translate(233.50 194.43) scale(0.85 1)">1.10</text>
<text transform="translate(233.50 175.95) scale(0.85 1)">1.15</text>
</g>
<g font-size="8.2" text-anchor="middle">
<text transform="translate(243.70 290.40) scale(0.85 1)">0</text>
<text transform="translate(281.33 290.40) scale(0.85 1)">50</text>
<text transform="translate(318.95 290.40) scale(0.85 1)">100</text>
</g>
<text transform="translate(280.70 160.90) scale(0.92 1)" font-size="8.4" text-anchor="middle">val/dfl_loss</text>
</g>
<g>
<rect x="349.70" y="165.30" width="80.60" height="112.10" fill="#eaeaf2" stroke="none"/>
<path d="M353.00 165.30V277.40M390.63 165.30V277.40M428.25 165.30V277.40M349.70 265.40H430.30M349.70 235.53H430.30M349.70 205.67H430.30M349.70 175.80H430.30" stroke="#ffffff" stroke-width="0.8" fill="none"/>
<g transform="scale(0.92 1)" fill="none" stroke="#4770b2" stroke-linecap="round" stroke-linejoin="round">
<polyline points="383.7,272.5 384.5,226.5 385.3,214.3 386.1,199.4 387.0,194.8 387.8,190.1 388.6,193.9 389.4,191.3 390.2,191.3 391.1,187.5 391.9,185.0 392.7,184.1 393.5,184.3 394.3,185.5 395.1,186.5 396.0,187.7 396.8,190.1 397.6,183.1 398.4,176.9 399.2,181.4 400.1,186.2 400.9,181.6 401.7,180.2 402.5,181.9 403.3,183.2 404.1,181.2 405.0,178.8 405.8,179.4 406.6,181.6 407.4,180.1 408.2,177.8 409.1,177.8 409.9,180.7 410.7,178.3 411.5,176.6 412.3,183.3 413.1,178.3 414.0,174.1 414.8,177.1 415.6,178.9 416.4,179.8 417.2,179.9 418.1,176.8 418.9,176.0 419.7,181.4 420.5,175.7 421.3,171.5 422.1,174.2 423.0,177.0 423.8,179.1 424.6,183.3 425.4,172.9 426.2,170.8 427.0,174.2 427.9,176.0 428.7,175.5 429.5,177.0 430.3,176.5 431.1,173.0 432.0,177.4 432.8,181.7 433.6,171.1 434.4,170.3 435.2,170.1 436.0,181.8 436.9,170.3 437.7,170.9 438.5,171.7 439.3,180.1 440.1,169.7 441.0,169.2 441.8,171.2 442.6,176.0 443.4,181.8 444.2,173.0 445.0,175.4 445.9,177.3 446.7,175.2 447.5,171.2 448.3,174.2 449.1,179.0 450.0,175.4 450.8,172.9 451.6,171.5 452.4,169.4 453.2,174.1 454.0,177.6 454.9,174.9 455.7,172.8 456.5,174.0 457.3,176.3 458.1,189.4 458.9,174.3 459.8,173.9 460.6,176.0 461.4,183.2 462.2,172.7 463.0,181.4 463.9,173.9 464.7,174.9" stroke-width="1.55"/>
<path d="M383.7 272.5h0M384.5 226.5h0M385.3 214.3h0M386.1 199.4h0M387.0 194.8h0M387.8 190.1h0M388.6 193.9h0M389.4 191.3h0M390.2 191.3h0M391.1 187.5h0M391.9 185.0h0M392.7 184.1h0M393.5 184.3h0M394.3 185.5h0M395.1 186.5h0M396.0 187.7h0M396.8 190.1h0M397.6 183.1h0M398.4 176.9h0M399.2 181.4h0M400.1 186.2h0M400.9 181.6h0M401.7 180.2h0M402.5 181.9h0M403.3 183.2h0M404.1 181.2h0M405.0 178.8h0M405.8 179.4h0M406.6 181.6h0M407.4 180.1h0M408.2 177.8h0M409.1 177.8h0M409.9 180.7h0M410.7 178.3h0M411.5 176.6h0M412.3 183.3h0M413.1 178.3h0M414.0 174.1h0M414.8 177.1h0M415.6 178.9h0M416.4 179.8h0M417.2 179.9h0M418.1 176.8h0M418.9 176.0h0M419.7 181.4h0M420.5 175.7h0M421.3 171.5h0M422.1 174.2h0M423.0 177.0h0M423.8 179.1h0M424.6 183.3h0M425.4 172.9h0M426.2 170.8h0M427.0 174.2h0M427.9 176.0h0M428.7 175.5h0M429.5 177.0h0M430.3 176.5h0M431.1 173.0h0M432.0 177.4h0M432.8 181.7h0M433.6 171.1h0M434.4 170.3h0M435.2 170.1h0M436.0 181.8h0M436.9 170.3h0M437.7 170.9h0M438.5 171.7h0M439.3 180.1h0M440.1 169.7h0M441.0 169.2h0M441.8 171.2h0M442.6 176.0h0M443.4 181.8h0M444.2 173.0h0M445.0 175.4h0M445.9 177.3h0M446.7 175.2h0M447.5 171.2h0M448.3 174.2h0M449.1 179.0h0M450.0 175.4h0M450.8 172.9h0M451.6 171.5h0M452.4 169.4h0M453.2 174.1h0M454.0 177.6h0M454.9 174.9h0M455.7 172.8h0M456.5 174.0h0M457.3 176.3h0M458.1 189.4h0M458.9 174.3h0M459.8 173.9h0M460.6 176.0h0M461.4 183.2h0M462.2 172.7h0M463.0 181.4h0M463.9 173.9h0M464.7 174.9h0" stroke-width="4.0"/>
</g>
<g font-size="8.2" text-anchor="end">
<text transform="translate(342.80 268.35) scale(0.85 1)">0.3</text>
<text transform="translate(342.80 238.49) scale(0.85 1)">0.4</text>
<text transform="translate(342.80 208.62) scale(0.85 1)">0.5</text>
<text transform="translate(342.80 178.75) scale(0.85 1)">0.6</text>
</g>
<g font-size="8.2" text-anchor="middle">
<text transform="translate(353.00 290.40) scale(0.85 1)">0</text>
<text transform="translate(390.63 290.40) scale(0.85 1)">50</text>
<text transform="translate(428.25 290.40) scale(0.85 1)">100</text>
</g>
<text transform="translate(390.00 160.90) scale(0.92 1)" font-size="8.4" text-anchor="middle">metrics/mAP50(B)</text>
</g>
<g>
<rect x="459.20" y="165.30" width="80.50" height="112.10" fill="#eaeaf2" stroke="none"/>
<path d="M462.50 165.30V277.40M500.08 165.30V277.40M537.65 165.30V277.40M459.20 264.30H539.70M459.20 245.66H539.70M459.20 227.02H539.70M459.20 208.38H539.70M459.20 189.74H539.70M459.20 171.10H539.70" stroke="#ffffff" stroke-width="0.8" fill="none"/>
<g transform="scale(0.92 1)" fill="none" stroke="#4770b2" stroke-linecap="round" stroke-linejoin="round">
<polyline points="502.7,272.9 503.5,236.5 504.4,234.7 505.2,215.7 506.0,214.9 506.8,205.6 507.6,210.9 508.4,207.7 509.3,210.3 510.1,206.7 510.9,208.4 511.7,201.0 512.5,197.0 513.3,200.2 514.2,202.7 515.0,197.6 515.8,200.3 516.6,195.3 517.4,191.6 518.2,197.1 519.1,191.9 519.9,201.7 520.7,193.6 521.5,191.9 522.3,191.5 523.1,189.4 524.0,187.5 524.8,189.6 525.6,191.4 526.4,191.3 527.2,189.9 528.0,188.2 528.9,188.4 529.7,187.7 530.5,185.9 531.3,189.2 532.1,190.9 532.9,186.3 533.8,182.3 534.6,185.0 535.4,188.0 536.2,189.5 537.0,191.6 537.8,187.6 538.7,184.1 539.5,181.9 540.3,177.8 541.1,181.9 541.9,186.1 542.7,187.1 543.6,187.6 544.4,184.5 545.2,178.4 546.0,178.5 546.8,180.2 547.6,180.6 548.5,180.5 549.3,181.0 550.1,182.4 550.9,178.9 551.7,175.8 552.5,185.8 553.4,179.4 554.2,174.9 555.0,180.4 555.8,186.0 556.6,175.1 557.4,175.7 558.3,176.6 559.1,179.3 559.9,182.6 560.7,178.1 561.5,173.9 562.3,179.3 563.2,183.9 564.0,178.4 564.8,172.9 565.6,173.6 566.4,176.6 567.2,177.2 568.1,180.8 568.9,176.9 569.7,173.2 570.5,170.9 571.3,169.8 572.2,174.6 573.0,178.2 573.8,176.4 574.6,172.3 575.4,180.3 576.2,188.2 577.1,175.0 577.9,175.2 578.7,172.9 579.5,176.5 580.3,180.5 581.1,171.0 582.0,178.2 582.8,170.7 583.6,172.0" stroke-width="1.55"/>
<path d="M502.7 272.9h0M503.5 236.5h0M504.4 234.7h0M505.2 215.7h0M506.0 214.9h0M506.8 205.6h0M507.6 210.9h0M508.4 207.7h0M509.3 210.3h0M510.1 206.7h0M510.9 208.4h0M511.7 201.0h0M512.5 197.0h0M513.3 200.2h0M514.2 202.7h0M515.0 197.6h0M515.8 200.3h0M516.6 195.3h0M517.4 191.6h0M518.2 197.1h0M519.1 191.9h0M519.9 201.7h0M520.7 193.6h0M521.5 191.9h0M522.3 191.5h0M523.1 189.4h0M524.0 187.5h0M524.8 189.6h0M525.6 191.4h0M526.4 191.3h0M527.2 189.9h0M528.0 188.2h0M528.9 188.4h0M529.7 187.7h0M530.5 185.9h0M531.3 189.2h0M532.1 190.9h0M532.9 186.3h0M533.8 182.3h0M534.6 185.0h0M535.4 188.0h0M536.2 189.5h0M537.0 191.6h0M537.8 187.6h0M538.7 184.1h0M539.5 181.9h0M540.3 177.8h0M541.1 181.9h0M541.9 186.1h0M542.7 187.1h0M543.6 187.6h0M544.4 184.5h0M545.2 178.4h0M546.0 178.5h0M546.8 180.2h0M547.6 180.6h0M548.5 180.5h0M549.3 181.0h0M550.1 182.4h0M550.9 178.9h0M551.7 175.8h0M552.5 185.8h0M553.4 179.4h0M554.2 174.9h0M555.0 180.4h0M555.8 186.0h0M556.6 175.1h0M557.4 175.7h0M558.3 176.6h0M559.1 179.3h0M559.9 182.6h0M560.7 178.1h0M561.5 173.9h0M562.3 179.3h0M563.2 183.9h0M564.0 178.4h0M564.8 172.9h0M565.6 173.6h0M566.4 176.6h0M567.2 177.2h0M568.1 180.8h0M568.9 176.9h0M569.7 173.2h0M570.5 170.9h0M571.3 169.8h0M572.2 174.6h0M573.0 178.2h0M573.8 176.4h0M574.6 172.3h0M575.4 180.3h0M576.2 188.2h0M577.1 175.0h0M577.9 175.2h0M578.7 172.9h0M579.5 176.5h0M580.3 180.5h0M581.1 171.0h0M582.0 178.2h0M582.8 170.7h0M583.6 172.0h0" stroke-width="4.0"/>
</g>
<g font-size="8.2" text-anchor="end">
<text transform="translate(452.30 267.25) scale(0.85 1)">0.20</text>
<text transform="translate(452.30 248.61) scale(0.85 1)">0.25</text>
<text transform="translate(452.30 229.97) scale(0.85 1)">0.30</text>
<text transform="translate(452.30 211.33) scale(0.85 1)">0.35</text>
<text transform="translate(452.30 192.69) scale(0.85 1)">0.40</text>
<text transform="translate(452.30 174.05) scale(0.85 1)">0.45</text>
</g>
<g font-size="8.2" text-anchor="middle">
<text transform="translate(462.50 290.40) scale(0.85 1)">0</text>
<text transform="translate(500.08 290.40) scale(0.85 1)">50</text>
<text transform="translate(537.65 290.40) scale(0.85 1)">100</text>
</g>
<text transform="translate(499.45 160.90) scale(0.92 1)" font-size="8.4" text-anchor="middle">metrics/mAP50-95(B)</text>
</g>
<g>
<rect x="24.70" y="335.40" width="77.30" height="113.20" fill="#eaeaf2" stroke="none"/>
<path d="M28.15 335.40V448.60M64.03 335.40V448.60M99.92 335.40V448.60M24.70 433.30H102.00M24.70 416.28H102.00M24.70 399.26H102.00M24.70 382.24H102.00M24.70 365.22H102.00M24.70 348.20H102.00" stroke="#ffffff" stroke-width="0.8" fill="none"/>
<g transform="scale(0.9 1)" fill="none" stroke="#4770b2" stroke-linecap="round" stroke-linejoin="round">
<polyline points="31.3,339.6 32.1,383.2 32.9,384.6 33.7,386.3 34.5,387.6 35.3,388.9 36.1,393.3 36.9,394.0 37.7,395.1 38.5,395.8 39.3,396.9 40.0,398.0 40.8,398.7 41.6,400.6 42.4,400.4 43.2,401.4 44.0,402.2 44.8,403.2 45.6,403.2 46.4,404.8 47.2,405.4 48.0,405.1 48.8,407.2 49.6,407.1 50.4,407.6 51.2,407.7 52.0,408.3 52.8,410.1 53.6,410.0 54.4,411.2 55.2,411.4 56.0,412.2 56.8,412.8 57.6,413.3 58.4,412.9 59.2,414.4 60.0,414.5 60.8,415.1 61.6,415.9 62.4,415.9 63.2,416.8 64.0,416.9 64.8,417.7 65.6,417.7 66.4,418.2 67.2,419.1 68.0,419.2 68.8,419.5 69.6,420.0 70.4,421.1 71.1,421.5 71.9,421.9 72.7,422.7 73.5,422.5 74.3,423.3 75.1,423.4 75.9,424.0 76.7,424.8 77.5,424.9 78.3,424.5 79.1,425.8 79.9,426.3 80.7,426.3 81.5,426.8 82.3,428.5 83.1,428.1 83.9,428.6 84.7,429.8 85.5,429.0 86.3,429.8 87.1,430.3 87.9,430.3 88.7,431.0 89.5,431.4 90.3,432.1 91.1,432.3 91.9,431.9 92.7,433.0 93.5,433.2 94.3,434.2 95.1,433.8 95.9,434.0 96.7,434.0 97.5,435.2 98.3,435.2 99.1,436.3 99.9,435.7 100.7,436.0 101.5,436.8 102.2,436.4 103.0,436.8 103.8,438.5 104.6,439.9 105.4,440.3 106.2,441.4 107.0,441.3 107.8,441.7 108.6,442.9 109.4,443.5 110.2,443.4" stroke-width="1.55"/>
<path d="M31.3 339.6h0M32.1 383.2h0M32.9 384.6h0M33.7 386.3h0M34.5 387.6h0M35.3 388.9h0M36.1 393.3h0M36.9 394.0h0M37.7 395.1h0M38.5 395.8h0M39.3 396.9h0M40.0 398.0h0M40.8 398.7h0M41.6 400.6h0M42.4 400.4h0M43.2 401.4h0M44.0 402.2h0M44.8 403.2h0M45.6 403.2h0M46.4 404.8h0M47.2 405.4h0M48.0 405.1h0M48.8 407.2h0M49.6 407.1h0M50.4 407.6h0M51.2 407.7h0M52.0 408.3h0M52.8 410.1h0M53.6 410.0h0M54.4 411.2h0M55.2 411.4h0M56.0 412.2h0M56.8 412.8h0M57.6 413.3h0M58.4 412.9h0M59.2 414.4h0M60.0 414.5h0M60.8 415.1h0M61.6 415.9h0M62.4 415.9h0M63.2 416.8h0M64.0 416.9h0M64.8 417.7h0M65.6 417.7h0M66.4 418.2h0M67.2 419.1h0M68.0 419.2h0M68.8 419.5h0M69.6 420.0h0M70.4 421.1h0M71.1 421.5h0M71.9 421.9h0M72.7 422.7h0M73.5 422.5h0M74.3 423.3h0M75.1 423.4h0M75.9 424.0h0M76.7 424.8h0M77.5 424.9h0M78.3 424.5h0M79.1 425.8h0M79.9 426.3h0M80.7 426.3h0M81.5 426.8h0M82.3 428.5h0M83.1 428.1h0M83.9 428.6h0M84.7 429.8h0M85.5 429.0h0M86.3 429.8h0M87.1 430.3h0M87.9 430.3h0M88.7 431.0h0M89.5 431.4h0M90.3 432.1h0M91.1 432.3h0M91.9 431.9h0M92.7 433.0h0M93.5 433.2h0M94.3 434.2h0M95.1 433.8h0M95.9 434.0h0M96.7 434.0h0M97.5 435.2h0M98.3 435.2h0M99.1 436.3h0M99.9 435.7h0M100.7 436.0h0M101.5 436.8h0M102.2 436.4h0M103.0 436.8h0M103.8 438.5h0M104.6 439.9h0M105.4 440.3h0M106.2 441.4h0M107.0 441.3h0M107.8 441.7h0M108.6 442.9h0M109.4 443.5h0M110.2 443.4h0" stroke-width="4.0"/>
</g>
<g font-size="8.8" text-anchor="end">
<text transform="translate(17.70 436.47) scale(0.8 1)">0.6</text>
<text transform="translate(17.70 419.45) scale(0.8 1)">0.8</text>
<text transform="translate(17.70 402.43) scale(0.8 1)">1.0</text>
<text transform="translate(17.70 385.41) scale(0.8 1)">1.2</text>
<text transform="translate(17.70 368.39) scale(0.8 1)">1.4</text>
<text transform="translate(17.70 351.37) scale(0.8 1)">1.6</text>
</g>
<g font-size="8.8" text-anchor="middle">
<text transform="translate(28.15 461.80) scale(0.8 1)">0</text>
<text transform="translate(64.03 461.80) scale(0.8 1)">50</text>
<text transform="translate(99.92 461.80) scale(0.8 1)">100</text>
</g>
<text transform="translate(63.35 330.80) scale(0.86 1)" font-size="9.0" text-anchor="middle">train/box_loss</text>
</g>
<g>
<rect x="134.40" y="335.40" width="77.50" height="113.20" fill="#eaeaf2" stroke="none"/>
<path d="M137.85 335.40V448.60M173.83 335.40V448.60M209.82 335.40V448.60M134.40 429.50H211.90M134.40 400.57H211.90M134.40 371.63H211.90M134.40 342.70H211.90" stroke="#ffffff" stroke-width="0.8" fill="none"/>
<g transform="scale(0.9 1)" fill="none" stroke="#4770b2" stroke-linecap="round" stroke-linejoin="round">
<polyline points="153.2,340.1 154.0,400.5 154.8,405.1 155.6,408.7 156.4,413.4 157.2,415.6 158.0,416.8 158.8,418.0 159.6,419.1 160.4,420.1 161.2,420.8 162.0,421.4 162.8,422.1 163.6,422.0 164.4,422.9 165.2,423.1 166.0,423.5 166.8,424.0 167.6,424.2 168.4,424.9 169.2,425.5 170.0,425.8 170.8,426.4 171.6,426.6 172.4,426.8 173.2,427.1 174.0,428.1 174.8,428.0 175.6,428.5 176.4,428.3 177.2,429.1 178.0,429.6 178.8,429.9 179.6,430.4 180.4,430.2 181.2,430.5 182.0,430.7 182.8,431.0 183.6,431.7 184.4,431.7 185.2,431.9 186.0,432.0 186.8,432.4 187.6,432.6 188.4,432.8 189.2,432.5 190.0,433.0 190.8,433.2 191.6,433.2 192.4,434.2 193.1,434.1 193.9,434.3 194.7,433.9 195.5,434.7 196.3,435.0 197.1,434.9 197.9,435.2 198.7,435.1 199.5,435.6 200.3,435.8 201.1,435.9 201.9,436.5 202.7,436.3 203.5,436.5 204.3,436.5 205.1,436.6 205.9,436.8 206.7,437.1 207.5,437.5 208.3,437.2 209.1,437.6 209.9,437.4 210.7,437.7 211.5,438.2 212.3,438.2 213.1,438.4 213.9,438.4 214.7,438.5 215.5,438.7 216.3,439.1 217.1,439.1 217.9,439.1 218.7,439.3 219.5,439.5 220.3,439.5 221.1,440.1 221.9,440.1 222.7,440.1 223.5,440.5 224.3,441.2 225.1,441.6 225.9,441.4 226.7,442.5 227.5,442.5 228.3,443.0 229.1,443.1 229.9,443.7 230.7,443.6 231.5,444.2 232.3,444.0" stroke-width="1.55"/>
<path d="M153.2 340.1h0M154.0 400.5h0M154.8 405.1h0M155.6 408.7h0M156.4 413.4h0M157.2 415.6h0M158.0 416.8h0M158.8 418.0h0M159.6 419.1h0M160.4 420.1h0M161.2 420.8h0M162.0 421.4h0M162.8 422.1h0M163.6 422.0h0M164.4 422.9h0M165.2 423.1h0M166.0 423.5h0M166.8 424.0h0M167.6 424.2h0M168.4 424.9h0M169.2 425.5h0M170.0 425.8h0M170.8 426.4h0M171.6 426.6h0M172.4 426.8h0M173.2 427.1h0M174.0 428.1h0M174.8 428.0h0M175.6 428.5h0M176.4 428.3h0M177.2 429.1h0M178.0 429.6h0M178.8 429.9h0M179.6 430.4h0M180.4 430.2h0M181.2 430.5h0M182.0 430.7h0M182.8 431.0h0M183.6 431.7h0M184.4 431.7h0M185.2 431.9h0M186.0 432.0h0M186.8 432.4h0M187.6 432.6h0M188.4 432.8h0M189.2 432.5h0M190.0 433.0h0M190.8 433.2h0M191.6 433.2h0M192.4 434.2h0M193.1 434.1h0M193.9 434.3h0M194.7 433.9h0M195.5 434.7h0M196.3 435.0h0M197.1 434.9h0M197.9 435.2h0M198.7 435.1h0M199.5 435.6h0M200.3 435.8h0M201.1 435.9h0M201.9 436.5h0M202.7 436.3h0M203.5 436.5h0M204.3 436.5h0M205.1 436.6h0M205.9 436.8h0M206.7 437.1h0M207.5 437.5h0M208.3 437.2h0M209.1 437.6h0M209.9 437.4h0M210.7 437.7h0M211.5 438.2h0M212.3 438.2h0M213.1 438.4h0M213.9 438.4h0M214.7 438.5h0M215.5 438.7h0M216.3 439.1h0M217.1 439.1h0M217.9 439.1h0M218.7 439.3h0M219.5 439.5h0M220.3 439.5h0M221.1 440.1h0M221.9 440.1h0M222.7 440.1h0M223.5 440.5h0M224.3 441.2h0M225.1 441.6h0M225.9 441.4h0M226.7 442.5h0M227.5 442.5h0M228.3 443.0h0M229.1 443.1h0M229.9 443.7h0M230.7 443.6h0M231.5 444.2h0M232.3 444.0h0" stroke-width="4.0"/>
</g>
<g font-size="8.8" text-anchor="end">
<text transform="translate(127.40 432.67) scale(0.8 1)">0.5</text>
<text transform="translate(127.40 403.73) scale(0.8 1)">1.0</text>
<text transform="translate(127.40 374.80) scale(0.8 1)">1.5</text>
<text transform="translate(127.40 345.87) scale(0.8 1)">2.0</text>
</g>
<g font-size="8.8" text-anchor="middle">
<text transform="translate(137.85 461.80) scale(0.8 1)">0</text>
<text transform="translate(173.83 461.80) scale(0.8 1)">50</text>
<text transform="translate(209.82 461.80) scale(0.8 1)">100</text>
</g>
<text transform="translate(173.15 330.80) scale(0.86 1)" font-size="9.0" text-anchor="middle">train/cls_loss</text>
<rect x="162.00" y="338.70" width="46.35" height="13.40" rx="1.5" fill="#eaeaf2" fill-opacity="0.8" stroke="#d0d0d8" stroke-width="0.6"/>
<path d="M164.40 345.00h15.2" stroke="#4770b2" stroke-width="1.55" fill="none"/>
<ellipse cx="172.00" cy="345.00" rx="1.80" ry="2.0" fill="#4770b2" stroke="none"/>
<text transform="translate(184.80 347.99) scale(0.810 1)" font-size="8.8">results</text>
</g>
<g>
<rect x="243.90" y="335.40" width="77.40" height="113.20" fill="#eaeaf2" stroke="none"/>
<path d="M247.35 335.40V448.60M283.28 335.40V448.60M319.22 335.40V448.60M243.90 445.10H321.30M243.90 415.57H321.30M243.90 386.03H321.30M243.90 356.50H321.30" stroke="#ffffff" stroke-width="0.8" fill="none"/>
<g transform="scale(0.9 1)" fill="none" stroke="#4770b2" stroke-linecap="round" stroke-linejoin="round">
<polyline points="274.8,339.3 275.6,397.3 276.4,407.4 277.2,409.6 278.0,411.1 278.8,415.5 279.6,416.6 280.4,417.1 281.2,418.0 282.0,418.1 282.8,419.1 283.6,420.8 284.4,420.2 285.2,419.8 286.0,421.2 286.8,422.3 287.6,422.7 288.4,423.2 289.2,423.2 290.0,423.8 290.8,424.5 291.6,424.6 292.4,425.3 293.2,425.6 294.0,425.4 294.8,426.5 295.6,426.4 296.4,426.9 297.2,427.4 298.0,428.5 298.8,428.5 299.6,429.2 300.4,429.9 301.2,429.7 302.0,428.9 302.8,429.6 303.6,431.0 304.4,430.8 305.2,431.5 306.0,431.4 306.8,431.8 307.6,432.5 308.4,432.2 309.2,432.5 310.0,432.8 310.8,432.9 311.6,433.3 312.4,433.2 313.2,433.1 314.0,433.6 314.8,434.0 315.6,434.9 316.4,434.5 317.2,434.6 318.0,435.0 318.8,435.2 319.6,435.8 320.4,435.6 321.1,436.2 321.9,435.8 322.7,435.9 323.5,436.5 324.3,436.2 325.1,436.7 325.9,436.8 326.7,436.1 327.5,437.1 328.3,437.4 329.1,437.8 329.9,437.9 330.7,437.8 331.5,438.1 332.3,438.4 333.1,437.9 333.9,437.3 334.7,438.4 335.5,438.6 336.3,439.1 337.1,438.9 337.9,439.0 338.7,438.7 339.5,439.5 340.3,439.1 341.1,438.7 341.9,439.0 342.7,438.9 343.5,439.7 344.3,439.4 345.1,440.5 345.9,440.4 346.7,440.9 347.5,441.8 348.3,442.1 349.1,442.8 349.9,443.5 350.7,443.4 351.5,443.6 352.3,444.2 353.1,444.0 353.9,444.0" stroke-width="1.55"/>
<path d="M274.8 339.3h0M275.6 397.3h0M276.4 407.4h0M277.2 409.6h0M278.0 411.1h0M278.8 415.5h0M279.6 416.6h0M280.4 417.1h0M281.2 418.0h0M282.0 418.1h0M282.8 419.1h0M283.6 420.8h0M284.4 420.2h0M285.2 419.8h0M286.0 421.2h0M286.8 422.3h0M287.6 422.7h0M288.4 423.2h0M289.2 423.2h0M290.0 423.8h0M290.8 424.5h0M291.6 424.6h0M292.4 425.3h0M293.2 425.6h0M294.0 425.4h0M294.8 426.5h0M295.6 426.4h0M296.4 426.9h0M297.2 427.4h0M298.0 428.5h0M298.8 428.5h0M299.6 429.2h0M300.4 429.9h0M301.2 429.7h0M302.0 428.9h0M302.8 429.6h0M303.6 431.0h0M304.4 430.8h0M305.2 431.5h0M306.0 431.4h0M306.8 431.8h0M307.6 432.5h0M308.4 432.2h0M309.2 432.5h0M310.0 432.8h0M310.8 432.9h0M311.6 433.3h0M312.4 433.2h0M313.2 433.1h0M314.0 433.6h0M314.8 434.0h0M315.6 434.9h0M316.4 434.5h0M317.2 434.6h0M318.0 435.0h0M318.8 435.2h0M319.6 435.8h0M320.4 435.6h0M321.1 436.2h0M321.9 435.8h0M322.7 435.9h0M323.5 436.5h0M324.3 436.2h0M325.1 436.7h0M325.9 436.8h0M326.7 436.1h0M327.5 437.1h0M328.3 437.4h0M329.1 437.8h0M329.9 437.9h0M330.7 437.8h0M331.5 438.1h0M332.3 438.4h0M333.1 437.9h0M333.9 437.3h0M334.7 438.4h0M335.5 438.6h0M336.3 439.1h0M337.1 438.9h0M337.9 439.0h0M338.7 438.7h0M339.5 439.5h0M340.3 439.1h0M341.1 438.7h0M341.9 439.0h0M342.7 438.9h0M343.5 439.7h0M344.3 439.4h0M345.1 440.5h0M345.9 440.4h0M346.7 440.9h0M347.5 441.8h0M348.3 442.1h0M349.1 442.8h0M349.9 443.5h0M350.7 443.4h0M351.5 443.6h0M352.3 444.2h0M353.1 444.0h0M353.9 444.0h0" stroke-width="4.0"/>
</g>
<g font-size="8.8" text-anchor="end">
<text transform="translate(236.90 448.27) scale(0.8 1)">0.8</text>
<text transform="translate(236.90 418.73) scale(0.8 1)">1.0</text>
<text transform="translate(236.90 389.20) scale(0.8 1)">1.2</text>
<text transform="translate(236.90 359.67) scale(0.8 1)">1.4</text>
</g>
<g font-size="8.8" text-anchor="middle">
<text transform="translate(247.35 461.80) scale(0.8 1)">0</text>
<text transform="translate(283.28 461.80) scale(0.8 1)">50</text>
<text transform="translate(319.22 461.80) scale(0.8 1)">100</text>
</g>
<text transform="translate(282.60 330.80) scale(0.86 1)" font-size="9.0" text-anchor="middle">train/dfl_loss</text>
</g>
<g>
<rect x="353.20" y="335.40" width="77.60" height="113.20" fill="#eaeaf2" stroke="none"/>
<path d="M356.65 335.40V448.60M392.69 335.40V448.60M428.72 335.40V448.60M353.20 431.40H430.80M353.20 404.43H430.80M353.20 377.47H430.80M353.20 350.50H430.80" stroke="#ffffff" stroke-width="0.8" fill="none"/>
<g transform="scale(0.9 1)" fill="none" stroke="#4770b2" stroke-linecap="round" stroke-linejoin="round">
<polyline points="396.3,443.8 397.1,419.5 397.9,412.0 398.7,417.9 399.5,415.2 400.3,395.3 401.1,393.6 401.9,396.3 402.7,392.6 403.5,409.8 404.3,407.1 405.1,376.9 405.9,393.6 406.7,386.9 407.5,380.2 408.3,396.3 409.1,378.5 409.9,385.6 410.7,399.0 411.5,382.9 412.3,420.6 413.1,396.3 413.9,392.6 414.7,389.3 415.5,382.9 416.3,386.6 417.1,389.3 417.9,387.2 418.7,393.6 419.5,391.0 420.3,416.8 421.1,391.0 421.9,381.8 422.7,407.1 423.5,391.0 424.3,409.8 425.1,392.6 425.9,407.1 426.7,396.3 427.5,404.4 428.3,415.2 429.1,399.0 429.9,412.5 430.7,404.4 431.5,409.8 432.3,407.1 433.1,385.6 433.9,377.5 434.7,393.6 435.5,377.5 436.3,382.9 437.1,344.6 437.9,406.6 438.7,378.5 439.5,388.3 440.3,380.2 441.1,391.0 441.9,393.6 442.7,399.0 443.5,405.5 444.3,360.2 445.1,388.3 445.9,378.5 446.7,391.0 447.5,368.3 448.3,374.8 449.1,393.6 449.9,372.1 450.7,339.2 451.5,374.8 452.3,396.3 453.1,355.9 453.9,380.2 454.7,396.3 455.5,364.0 456.3,377.5 457.1,358.1 457.9,378.5 458.7,394.7 459.5,361.3 460.3,377.5 461.1,382.9 461.9,364.0 462.7,377.5 463.5,361.3 464.3,421.7 465.1,368.3 465.9,382.9 466.7,369.4 467.5,382.9 468.3,391.0 469.1,350.0 470.0,377.5 470.8,380.2 471.6,388.3 472.4,381.8 473.2,385.0 474.0,380.7 474.8,382.9 475.6,379.6" stroke-width="1.55"/>
<path d="M396.3 443.8h0M397.1 419.5h0M397.9 412.0h0M398.7 417.9h0M399.5 415.2h0M400.3 395.3h0M401.1 393.6h0M401.9 396.3h0M402.7 392.6h0M403.5 409.8h0M404.3 407.1h0M405.1 376.9h0M405.9 393.6h0M406.7 386.9h0M407.5 380.2h0M408.3 396.3h0M409.1 378.5h0M409.9 385.6h0M410.7 399.0h0M411.5 382.9h0M412.3 420.6h0M413.1 396.3h0M413.9 392.6h0M414.7 389.3h0M415.5 382.9h0M416.3 386.6h0M417.1 389.3h0M417.9 387.2h0M418.7 393.6h0M419.5 391.0h0M420.3 416.8h0M421.1 391.0h0M421.9 381.8h0M422.7 407.1h0M423.5 391.0h0M424.3 409.8h0M425.1 392.6h0M425.9 407.1h0M426.7 396.3h0M427.5 404.4h0M428.3 415.2h0M429.1 399.0h0M429.9 412.5h0M430.7 404.4h0M431.5 409.8h0M432.3 407.1h0M433.1 385.6h0M433.9 377.5h0M434.7 393.6h0M435.5 377.5h0M436.3 382.9h0M437.1 344.6h0M437.9 406.6h0M438.7 378.5h0M439.5 388.3h0M440.3 380.2h0M441.1 391.0h0M441.9 393.6h0M442.7 399.0h0M443.5 405.5h0M444.3 360.2h0M445.1 388.3h0M445.9 378.5h0M446.7 391.0h0M447.5 368.3h0M448.3 374.8h0M449.1 393.6h0M449.9 372.1h0M450.7 339.2h0M451.5 374.8h0M452.3 396.3h0M453.1 355.9h0M453.9 380.2h0M454.7 396.3h0M455.5 364.0h0M456.3 377.5h0M457.1 358.1h0M457.9 378.5h0M458.7 394.7h0M459.5 361.3h0M460.3 377.5h0M461.1 382.9h0M461.9 364.0h0M462.7 377.5h0M463.5 361.3h0M464.3 421.7h0M465.1 368.3h0M465.9 382.9h0M466.7 369.4h0M467.5 382.9h0M468.3 391.0h0M469.1 350.0h0M470.0 377.5h0M470.8 380.2h0M471.6 388.3h0M472.4 381.8h0M473.2 385.0h0M474.0 380.7h0M474.8 382.9h0M475.6 379.6h0" stroke-width="4.0"/>
</g>
<g font-size="8.8" text-anchor="end">
<text transform="translate(346.20 434.57) scale(0.8 1)">0.50</text>
<text transform="translate(346.20 407.60) scale(0.8 1)">0.55</text>
<text transform="translate(346.20 380.63) scale(0.8 1)">0.60</text>
<text transform="translate(346.20 353.67) scale(0.8 1)">0.65</text>
</g>
<g font-size="8.8" text-anchor="middle">
<text transform="translate(356.65 461.80) scale(0.8 1)">0</text>
<text transform="translate(392.69 461.80) scale(0.8 1)">50</text>
<text transform="translate(428.72 461.80) scale(0.8 1)">100</text>
</g>
<text transform="translate(392.00 330.80) scale(0.86 1)" font-size="9.0" text-anchor="middle">metrics/precision(B)</text>
</g>
<g>
<rect x="463.00" y="335.40" width="76.90" height="113.20" fill="#eaeaf2" stroke="none"/>
<path d="M466.45 335.40V448.60M502.13 335.40V448.60M537.81 335.40V448.60M463.00 422.70H539.90M463.00 393.05H539.90M463.00 363.40H539.90" stroke="#ffffff" stroke-width="0.8" fill="none"/>
<g transform="scale(0.9 1)" fill="none" stroke="#4770b2" stroke-linecap="round" stroke-linejoin="round">
<polyline points="518.3,444.3 519.1,440.5 519.9,409.4 520.7,393.1 521.4,410.8 522.2,381.2 523.0,376.7 523.8,375.3 524.6,364.9 525.4,396.6 526.2,381.2 527.0,373.8 527.8,360.4 528.6,367.1 529.4,373.8 530.2,367.8 531.0,370.8 531.8,366.4 532.6,367.8 533.3,363.4 534.1,364.9 534.9,356.0 535.7,354.5 536.5,351.5 537.3,354.5 538.1,343.2 538.9,350.1 539.7,369.3 540.5,376.7 541.3,363.4 542.1,346.5 542.9,354.5 543.7,340.3 544.4,363.4 545.2,345.0 546.0,357.5 546.8,350.1 547.6,354.5 548.4,370.8 549.2,351.5 550.0,354.5 550.8,356.0 551.6,357.5 552.4,348.6 553.2,370.8 554.0,354.5 554.8,363.4 555.5,346.5 556.3,359.0 557.1,370.8 557.9,363.4 558.7,373.8 559.5,354.5 560.3,363.4 561.1,347.1 561.9,363.4 562.7,372.3 563.5,351.5 564.3,360.4 565.1,373.8 565.9,363.4 566.6,359.8 567.4,375.3 568.2,366.4 569.0,376.7 569.8,360.4 570.6,369.3 571.4,376.7 572.2,357.5 573.0,350.1 573.8,359.0 574.6,354.5 575.4,363.4 576.2,369.3 577.0,363.4 577.7,367.8 578.5,360.4 579.3,354.5 580.1,369.3 580.9,367.8 581.7,372.3 582.5,364.3 583.3,373.8 584.1,364.9 584.9,367.8 585.7,410.0 586.5,367.8 587.3,361.6 588.1,376.7 588.8,369.3 589.6,376.7 590.4,366.4 591.2,372.3 592.0,376.7 592.8,369.3 593.6,373.8 594.4,375.3 595.2,372.9 596.0,374.7 596.8,373.5" stroke-width="1.55"/>
<path d="M518.3 444.3h0M519.1 440.5h0M519.9 409.4h0M520.7 393.1h0M521.4 410.8h0M522.2 381.2h0M523.0 376.7h0M523.8 375.3h0M524.6 364.9h0M525.4 396.6h0M526.2 381.2h0M527.0 373.8h0M527.8 360.4h0M528.6 367.1h0M529.4 373.8h0M530.2 367.8h0M531.0 370.8h0M531.8 366.4h0M532.6 367.8h0M533.3 363.4h0M534.1 364.9h0M534.9 356.0h0M535.7 354.5h0M536.5 351.5h0M537.3 354.5h0M538.1 343.2h0M538.9 350.1h0M539.7 369.3h0M540.5 376.7h0M541.3 363.4h0M542.1 346.5h0M542.9 354.5h0M543.7 340.3h0M544.4 363.4h0M545.2 345.0h0M546.0 357.5h0M546.8 350.1h0M547.6 354.5h0M548.4 370.8h0M549.2 351.5h0M550.0 354.5h0M550.8 356.0h0M551.6 357.5h0M552.4 348.6h0M553.2 370.8h0M554.0 354.5h0M554.8 363.4h0M555.5 346.5h0M556.3 359.0h0M557.1 370.8h0M557.9 363.4h0M558.7 373.8h0M559.5 354.5h0M560.3 363.4h0M561.1 347.1h0M561.9 363.4h0M562.7 372.3h0M563.5 351.5h0M564.3 360.4h0M565.1 373.8h0M565.9 363.4h0M566.6 359.8h0M567.4 375.3h0M568.2 366.4h0M569.0 376.7h0M569.8 360.4h0M570.6 369.3h0M571.4 376.7h0M572.2 357.5h0M573.0 350.1h0M573.8 359.0h0M574.6 354.5h0M575.4 363.4h0M576.2 369.3h0M577.0 363.4h0M577.7 367.8h0M578.5 360.4h0M579.3 354.5h0M580.1 369.3h0M580.9 367.8h0M581.7 372.3h0M582.5 364.3h0M583.3 373.8h0M584.1 364.9h0M584.9 367.8h0M585.7 410.0h0M586.5 367.8h0M587.3 361.6h0M588.1 376.7h0M588.8 369.3h0M589.6 376.7h0M590.4 366.4h0M591.2 372.3h0M592.0 376.7h0M592.8 369.3h0M593.6 373.8h0M594.4 375.3h0M595.2 372.9h0M596.0 374.7h0M596.8 373.5h0" stroke-width="4.0"/>
</g>
<g font-size="8.8" text-anchor="end">
<text transform="translate(456.00 425.87) scale(0.8 1)">0.6</text>
<text transform="translate(456.00 396.22) scale(0.8 1)">0.7</text>
<text transform="translate(456.00 366.57) scale(0.8 1)">0.8</text>
</g>
<g font-size="8.8" text-anchor="middle">
<text transform="translate(466.45 461.80) scale(0.8 1)">0</text>
<text transform="translate(502.13 461.80) scale(0.8 1)">50</text>
<text transform="translate(537.81 461.80) scale(0.8 1)">100</text>
</g>
<text transform="translate(501.45 330.80) scale(0.86 1)" font-size="9.0" text-anchor="middle">metrics/recall(B)</text>
</g>
<g>
<rect x="24.70" y="482.30" width="77.30" height="114.70" fill="#eaeaf2" stroke="none"/>
<path d="M28.15 482.30V597.00M64.03 482.30V597.00M99.92 482.30V597.00M24.70 584.90H102.00M24.70 564.12H102.00M24.70 543.35H102.00M24.70 522.58H102.00M24.70 501.80H102.00" stroke="#ffffff" stroke-width="0.8" fill="none"/>
<g transform="scale(0.9 1)" fill="none" stroke="#4770b2" stroke-linecap="round" stroke-linejoin="round">
<polyline points="31.3,488.2 32.1,491.5 32.9,504.7 33.7,508.3 34.5,509.2 35.3,514.2 36.1,519.2 36.9,511.0 37.7,524.5 38.5,518.4 39.3,516.6 40.0,524.5 40.8,523.6 41.6,524.8 42.4,525.7 43.2,530.9 44.0,538.1 44.8,532.9 45.6,529.2 46.4,535.3 47.2,530.8 48.0,531.9 48.8,537.2 49.6,531.8 50.4,546.5 51.2,545.4 52.0,545.9 52.8,544.6 53.6,543.4 54.4,545.5 55.2,547.7 56.0,553.6 56.8,549.3 57.6,550.6 58.4,549.8 59.2,551.1 60.0,550.5 60.8,549.6 61.6,548.6 62.4,561.2 63.2,559.9 64.0,562.0 64.8,559.0 65.6,557.8 66.4,554.7 67.2,561.0 68.0,563.2 68.8,564.2 69.6,566.3 70.4,565.1 71.1,567.8 71.9,568.3 72.7,568.6 73.5,567.1 74.3,571.3 75.1,570.3 75.9,569.2 76.7,573.7 77.5,568.2 78.3,574.6 79.1,570.2 79.9,575.4 80.7,571.4 81.5,576.4 82.3,577.9 83.1,579.5 83.9,576.6 84.7,580.9 85.5,579.6 86.3,578.7 87.1,580.9 87.9,581.8 88.7,579.5 89.5,578.6 90.3,581.0 91.1,582.8 91.9,582.5 92.7,581.9 93.5,582.8 94.3,584.7 95.1,585.1 95.9,583.7 96.7,585.5 97.5,586.7 98.3,586.5 99.1,584.8 99.9,586.7 100.7,587.9 101.5,588.0 102.2,586.8 103.0,587.6 103.8,588.1 104.6,588.6 105.4,589.1 106.2,588.7 107.0,589.6 107.8,590.9 108.6,590.6 109.4,591.1 110.2,591.0" stroke-width="1.55"/>
<path d="M31.3 488.2h0M32.1 491.5h0M32.9 504.7h0M33.7 508.3h0M34.5 509.2h0M35.3 514.2h0M36.1 519.2h0M36.9 511.0h0M37.7 524.5h0M38.5 518.4h0M39.3 516.6h0M40.0 524.5h0M40.8 523.6h0M41.6 524.8h0M42.4 525.7h0M43.2 530.9h0M44.0 538.1h0M44.8 532.9h0M45.6 529.2h0M46.4 535.3h0M47.2 530.8h0M48.0 531.9h0M48.8 537.2h0M49.6 531.8h0M50.4 546.5h0M51.2 545.4h0M52.0 545.9h0M52.8 544.6h0M53.6 543.4h0M54.4 545.5h0M55.2 547.7h0M56.0 553.6h0M56.8 549.3h0M57.6 550.6h0M58.4 549.8h0M59.2 551.1h0M60.0 550.5h0M60.8 549.6h0M61.6 548.6h0M62.4 561.2h0M63.2 559.9h0M64.0 562.0h0M64.8 559.0h0M65.6 557.8h0M66.4 554.7h0M67.2 561.0h0M68.0 563.2h0M68.8 564.2h0M69.6 566.3h0M70.4 565.1h0M71.1 567.8h0M71.9 568.3h0M72.7 568.6h0M73.5 567.1h0M74.3 571.3h0M75.1 570.3h0M75.9 569.2h0M76.7 573.7h0M77.5 568.2h0M78.3 574.6h0M79.1 570.2h0M79.9 575.4h0M80.7 571.4h0M81.5 576.4h0M82.3 577.9h0M83.1 579.5h0M83.9 576.6h0M84.7 580.9h0M85.5 579.6h0M86.3 578.7h0M87.1 580.9h0M87.9 581.8h0M88.7 579.5h0M89.5 578.6h0M90.3 581.0h0M91.1 582.8h0M91.9 582.5h0M92.7 581.9h0M93.5 582.8h0M94.3 584.7h0M95.1 585.1h0M95.9 583.7h0M96.7 585.5h0M97.5 586.7h0M98.3 586.5h0M99.1 584.8h0M99.9 586.7h0M100.7 587.9h0M101.5 588.0h0M102.2 586.8h0M103.0 587.6h0M103.8 588.1h0M104.6 588.6h0M105.4 589.1h0M106.2 588.7h0M107.0 589.6h0M107.8 590.9h0M108.6 590.6h0M109.4 591.1h0M110.2 591.0h0" stroke-width="4.0"/>
</g>
<g font-size="8.8" text-anchor="end">
<text transform="translate(17.70 588.07) scale(0.8 1)">0.7</text>
<text transform="translate(17.70 567.29) scale(0.8 1)">0.8</text>
<text transform="translate(17.70 546.52) scale(0.8 1)">0.9</text>
<text transform="translate(17.70 525.74) scale(0.8 1)">1.0</text>
<text transform="translate(17.70 504.97) scale(0.8 1)">1.1</text>
</g>
<g font-size="8.8" text-anchor="middle">
<text transform="translate(28.15 610.40) scale(0.8 1)">0</text>
<text transform="translate(64.03 610.40) scale(0.8 1)">50</text>
<text transform="translate(99.92 610.40) scale(0.8 1)">100</text>
</g>
<text transform="translate(63.35 478.40) scale(0.86 1)" font-size="9.0" text-anchor="middle">val/box_loss</text>
</g>
<g>
<rect x="134.40" y="482.30" width="77.50" height="114.70" fill="#eaeaf2" stroke="none"/>
<path d="M137.85 482.30V597.00M173.83 482.30V597.00M209.82 482.30V597.00M134.40 572.00H211.90M134.40 545.43H211.90M134.40 518.87H211.90M134.40 492.30H211.90" stroke="#ffffff" stroke-width="0.8" fill="none"/>
<g transform="scale(0.9 1)" fill="none" stroke="#4770b2" stroke-linecap="round" stroke-linejoin="round">
<polyline points="153.2,487.7 154.0,523.5 154.8,524.2 155.6,545.4 156.4,549.4 157.2,556.1 158.0,558.7 158.8,564.7 159.6,558.7 160.4,566.7 161.2,558.1 162.0,560.0 162.8,570.0 163.6,572.0 164.4,570.7 165.2,573.3 166.0,576.6 166.8,574.0 167.6,576.0 168.4,573.3 169.2,570.7 170.0,574.7 170.8,576.0 171.6,579.3 172.4,581.3 173.2,576.6 174.0,574.7 174.8,580.0 175.6,582.6 176.4,576.0 177.2,565.4 178.0,577.3 178.8,579.3 179.6,584.6 180.4,581.3 181.2,579.3 182.0,578.6 182.8,580.6 183.6,582.6 184.4,574.7 185.2,568.0 186.0,572.7 186.8,572.0 187.6,575.3 188.4,564.7 189.2,576.0 190.0,578.6 190.8,579.3 191.6,581.3 192.4,580.0 193.1,588.6 193.9,580.0 194.7,564.7 195.5,578.6 196.3,581.3 197.1,578.0 197.9,577.3 198.7,580.6 199.5,569.3 200.3,580.0 201.1,586.6 201.9,580.6 202.7,577.3 203.5,578.6 204.3,572.0 205.1,579.3 205.9,582.6 206.7,592.6 207.5,584.0 208.3,581.3 209.1,582.6 209.9,579.3 210.7,576.0 211.5,581.3 212.3,585.3 213.1,579.3 213.9,574.7 214.7,582.6 215.5,587.9 216.3,582.6 217.1,581.3 217.9,578.6 218.7,574.7 219.5,582.0 220.3,586.6 221.1,556.7 221.9,578.6 222.7,582.0 223.5,585.3 224.3,580.0 225.1,577.3 225.9,582.6 226.7,586.6 227.5,574.7 228.3,577.3 229.1,578.6 229.9,578.0 230.7,579.3 231.5,577.3 232.3,575.3" stroke-width="1.55"/>
<path d="M153.2 487.7h0M154.0 523.5h0M154.8 524.2h0M155.6 545.4h0M156.4 549.4h0M157.2 556.1h0M158.0 558.7h0M158.8 564.7h0M159.6 558.7h0M160.4 566.7h0M161.2 558.1h0M162.0 560.0h0M162.8 570.0h0M163.6 572.0h0M164.4 570.7h0M165.2 573.3h0M166.0 576.6h0M166.8 574.0h0M167.6 576.0h0M168.4 573.3h0M169.2 570.7h0M170.0 574.7h0M170.8 576.0h0M171.6 579.3h0M172.4 581.3h0M173.2 576.6h0M174.0 574.7h0M174.8 580.0h0M175.6 582.6h0M176.4 576.0h0M177.2 565.4h0M178.0 577.3h0M178.8 579.3h0M179.6 584.6h0M180.4 581.3h0M181.2 579.3h0M182.0 578.6h0M182.8 580.6h0M183.6 582.6h0M184.4 574.7h0M185.2 568.0h0M186.0 572.7h0M186.8 572.0h0M187.6 575.3h0M188.4 564.7h0M189.2 576.0h0M190.0 578.6h0M190.8 579.3h0M191.6 581.3h0M192.4 580.0h0M193.1 588.6h0M193.9 580.0h0M194.7 564.7h0M195.5 578.6h0M196.3 581.3h0M197.1 578.0h0M197.9 577.3h0M198.7 580.6h0M199.5 569.3h0M200.3 580.0h0M201.1 586.6h0M201.9 580.6h0M202.7 577.3h0M203.5 578.6h0M204.3 572.0h0M205.1 579.3h0M205.9 582.6h0M206.7 592.6h0M207.5 584.0h0M208.3 581.3h0M209.1 582.6h0M209.9 579.3h0M210.7 576.0h0M211.5 581.3h0M212.3 585.3h0M213.1 579.3h0M213.9 574.7h0M214.7 582.6h0M215.5 587.9h0M216.3 582.6h0M217.1 581.3h0M217.9 578.6h0M218.7 574.7h0M219.5 582.0h0M220.3 586.6h0M221.1 556.7h0M221.9 578.6h0M222.7 582.0h0M223.5 585.3h0M224.3 580.0h0M225.1 577.3h0M225.9 582.6h0M226.7 586.6h0M227.5 574.7h0M228.3 577.3h0M229.1 578.6h0M229.9 578.0h0M230.7 579.3h0M231.5 577.3h0M232.3 575.3h0" stroke-width="4.0"/>
</g>
<g font-size="8.8" text-anchor="end">
<text transform="translate(127.40 575.17) scale(0.8 1)">0.6</text>
<text transform="translate(127.40 548.60) scale(0.8 1)">0.8</text>
<text transform="translate(127.40 522.03) scale(0.8 1)">1.0</text>
<text transform="translate(127.40 495.47) scale(0.8 1)">1.2</text>
</g>
<g font-size="8.8" text-anchor="middle">
<text transform="translate(137.85 610.40) scale(0.8 1)">0</text>
<text transform="translate(173.83 610.40) scale(0.8 1)">50</text>
<text transform="translate(209.82 610.40) scale(0.8 1)">100</text>
</g>
<text transform="translate(173.15 478.40) scale(0.86 1)" font-size="9.0" text-anchor="middle">val/cls_loss</text>
</g>
<g>
<rect x="243.90" y="482.30" width="77.40" height="114.70" fill="#eaeaf2" stroke="none"/>
<path d="M247.35 482.30V597.00M283.28 482.30V597.00M319.22 482.30V597.00M243.90 583.90H321.30M243.90 560.50H321.30M243.90 537.10H321.30M243.90 513.70H321.30M243.90 490.30H321.30" stroke="#ffffff" stroke-width="0.8" fill="none"/>
<g transform="scale(0.9 1)" fill="none" stroke="#4770b2" stroke-linecap="round" stroke-linejoin="round">
<polyline points="274.8,488.2 275.6,529.0 276.4,540.6 277.2,545.3 278.0,542.9 278.8,551.1 279.6,552.2 280.4,553.4 281.2,562.8 282.0,559.4 282.8,563.9 283.6,563.0 284.4,560.5 285.2,563.6 286.0,566.3 286.8,563.9 287.6,561.7 288.4,565.1 289.2,566.3 290.0,565.1 290.8,563.8 291.6,568.7 292.4,566.4 293.2,563.9 294.0,573.4 294.8,572.2 295.6,570.9 296.4,572.6 297.2,574.6 298.0,573.4 298.8,574.2 299.6,575.6 300.4,576.4 301.2,576.8 302.0,577.1 302.8,577.1 303.6,578.0 304.4,576.8 305.2,573.3 306.0,581.7 306.8,581.2 307.6,580.3 308.4,579.9 309.2,577.9 310.0,576.9 310.8,579.3 311.6,580.3 312.4,581.3 313.2,582.7 314.0,582.5 314.8,583.7 315.6,583.8 316.4,583.7 317.2,584.5 318.0,585.4 318.8,585.5 319.6,586.2 320.4,586.4 321.1,587.4 321.9,586.9 322.7,586.6 323.5,586.2 324.3,587.1 325.1,587.9 325.9,587.5 326.7,587.5 327.5,587.4 328.3,586.8 329.1,587.3 329.9,587.9 330.7,587.4 331.5,588.7 332.3,587.9 333.1,589.0 333.9,588.9 334.7,589.3 335.5,589.5 336.3,589.8 337.1,589.9 337.9,590.0 338.7,590.1 339.5,589.9 340.3,590.2 341.1,591.1 341.9,590.3 342.7,591.0 343.5,591.1 344.3,591.1 345.1,592.0 345.9,591.8 346.7,591.1 347.5,591.3 348.3,591.4 349.1,591.7 349.9,591.5 350.7,592.0 351.5,591.9 352.3,591.8 353.1,591.2 353.9,591.4" stroke-width="1.55"/>
<path d="M274.8 488.2h0M275.6 529.0h0M276.4 540.6h0M277.2 545.3h0M278.0 542.9h0M278.8 551.1h0M279.6 552.2h0M280.4 553.4h0M281.2 562.8h0M282.0 559.4h0M282.8 563.9h0M283.6 563.0h0M284.4 560.5h0M285.2 563.6h0M286.0 566.3h0M286.8 563.9h0M287.6 561.7h0M288.4 565.1h0M289.2 566.3h0M290.0 565.1h0M290.8 563.8h0M291.6 568.7h0M292.4 566.4h0M293.2 563.9h0M294.0 573.4h0M294.8 572.2h0M295.6 570.9h0M296.4 572.6h0M297.2 574.6h0M298.0 573.4h0M298.8 574.2h0M299.6 575.6h0M300.4 576.4h0M301.2 576.8h0M302.0 577.1h0M302.8 577.1h0M303.6 578.0h0M304.4 576.8h0M305.2 573.3h0M306.0 581.7h0M306.8 581.2h0M307.6 580.3h0M308.4 579.9h0M309.2 577.9h0M310.0 576.9h0M310.8 579.3h0M311.6 580.3h0M312.4 581.3h0M313.2 582.7h0M314.0 582.5h0M314.8 583.7h0M315.6 583.8h0M316.4 583.7h0M317.2 584.5h0M318.0 585.4h0M318.8 585.5h0M319.6 586.2h0M320.4 586.4h0M321.1 587.4h0M321.9 586.9h0M322.7 586.6h0M323.5 586.2h0M324.3 587.1h0M325.1 587.9h0M325.9 587.5h0M326.7 587.5h0M327.5 587.4h0M328.3 586.8h0M329.1 587.3h0M329.9 587.9h0M330.7 587.4h0M331.5 588.7h0M332.3 587.9h0M333.1 589.0h0M333.9 588.9h0M334.7 589.3h0M335.5 589.5h0M336.3 589.8h0M337.1 589.9h0M337.9 590.0h0M338.7 590.1h0M339.5 589.9h0M340.3 590.2h0M341.1 591.1h0M341.9 590.3h0M342.7 591.0h0M343.5 591.1h0M344.3 591.1h0M345.1 592.0h0M345.9 591.8h0M346.7 591.1h0M347.5 591.3h0M348.3 591.4h0M349.1 591.7h0M349.9 591.5h0M350.7 592.0h0M351.5 591.9h0M352.3 591.8h0M353.1 591.2h0M353.9 591.4h0" stroke-width="4.0"/>
</g>
<g font-size="8.8" text-anchor="end">
<text transform="translate(236.90 587.07) scale(0.8 1)">0.9</text>
<text transform="translate(236.90 563.67) scale(0.8 1)">1.0</text>
<text transform="translate(236.90 540.27) scale(0.8 1)">1.1</text>
<text transform="translate(236.90 516.87) scale(0.8 1)">1.2</text>
<text transform="translate(236.90 493.47) scale(0.8 1)">1.3</text>
</g>
<g font-size="8.8" text-anchor="middle">
<text transform="translate(247.35 610.40) scale(0.8 1)">0</text>
<text transform="translate(283.28 610.40) scale(0.8 1)">50</text>
<text transform="translate(319.22 610.40) scale(0.8 1)">100</text>
</g>
<text transform="translate(282.60 478.40) scale(0.86 1)" font-size="9.0" text-anchor="middle">val/dfl_loss</text>
</g>
<g>
<rect x="353.20" y="482.30" width="77.60" height="114.70" fill="#eaeaf2" stroke="none"/>
<path d="M356.65 482.30V597.00M392.69 482.30V597.00M428.72 482.30V597.00M353.20 589.60H430.80M353.20 565.10H430.80M353.20 540.60H430.80M353.20 516.10H430.80M353.20 491.60H430.80" stroke="#ffffff" stroke-width="0.8" fill="none"/>
<g transform="scale(0.9 1)" fill="none" stroke="#4770b2" stroke-linecap="round" stroke-linejoin="round">
<polyline points="396.3,592.1 397.1,565.1 397.9,574.9 398.7,558.7 399.5,568.5 400.3,549.4 401.1,544.0 401.9,548.0 402.7,550.4 403.5,545.5 404.3,552.9 405.1,540.6 405.9,555.3 406.7,550.4 407.5,545.5 408.3,540.6 409.1,541.6 409.9,555.3 410.7,543.1 411.5,548.0 412.3,566.6 413.1,545.5 413.9,540.6 414.7,541.6 415.5,535.7 416.3,534.7 417.1,533.2 417.9,538.1 418.7,545.5 419.5,540.6 420.3,570.0 421.1,543.1 421.9,534.2 422.7,538.1 423.5,540.6 424.3,543.1 425.1,545.5 425.9,532.3 426.7,555.3 427.5,548.0 428.3,567.5 429.1,552.9 429.9,548.0 430.7,555.3 431.5,560.2 432.3,551.4 433.1,530.8 433.9,545.5 434.7,538.1 435.5,533.2 436.3,535.7 437.1,511.2 437.9,565.1 438.7,525.9 439.5,535.7 440.3,545.5 441.1,524.4 441.9,540.6 442.7,550.4 443.5,557.8 444.3,538.1 445.1,530.8 445.9,528.4 446.7,521.0 447.5,535.7 448.3,544.0 449.1,521.0 449.9,530.8 450.7,487.7 451.5,518.5 452.3,525.9 453.1,491.6 453.9,516.1 454.7,535.7 455.5,513.6 456.3,491.6 457.1,530.8 457.9,494.1 458.7,525.9 459.5,505.3 460.3,535.7 461.1,505.3 461.9,523.5 462.7,496.5 463.5,525.9 464.3,583.2 465.1,518.5 465.9,528.4 466.7,535.7 467.5,518.5 468.3,521.0 469.1,490.1 470.0,518.5 470.8,533.2 471.6,528.4 472.4,525.9 473.2,530.8 474.0,532.3 474.8,525.9 475.6,528.4" stroke-width="1.55"/>
<path d="M396.3 592.1h0M397.1 565.1h0M397.9 574.9h0M398.7 558.7h0M399.5 568.5h0M400.3 549.4h0M401.1 544.0h0M401.9 548.0h0M402.7 550.4h0M403.5 545.5h0M404.3 552.9h0M405.1 540.6h0M405.9 555.3h0M406.7 550.4h0M407.5 545.5h0M408.3 540.6h0M409.1 541.6h0M409.9 555.3h0M410.7 543.1h0M411.5 548.0h0M412.3 566.6h0M413.1 545.5h0M413.9 540.6h0M414.7 541.6h0M415.5 535.7h0M416.3 534.7h0M417.1 533.2h0M417.9 538.1h0M418.7 545.5h0M419.5 540.6h0M420.3 570.0h0M421.1 543.1h0M421.9 534.2h0M422.7 538.1h0M423.5 540.6h0M424.3 543.1h0M425.1 545.5h0M425.9 532.3h0M426.7 555.3h0M427.5 548.0h0M428.3 567.5h0M429.1 552.9h0M429.9 548.0h0M430.7 555.3h0M431.5 560.2h0M432.3 551.4h0M433.1 530.8h0M433.9 545.5h0M434.7 538.1h0M435.5 533.2h0M436.3 535.7h0M437.1 511.2h0M437.9 565.1h0M438.7 525.9h0M439.5 535.7h0M440.3 545.5h0M441.1 524.4h0M441.9 540.6h0M442.7 550.4h0M443.5 557.8h0M444.3 538.1h0M445.1 530.8h0M445.9 528.4h0M446.7 521.0h0M447.5 535.7h0M448.3 544.0h0M449.1 521.0h0M449.9 530.8h0M450.7 487.7h0M451.5 518.5h0M452.3 525.9h0M453.1 491.6h0M453.9 516.1h0M454.7 535.7h0M455.5 513.6h0M456.3 491.6h0M457.1 530.8h0M457.9 494.1h0M458.7 525.9h0M459.5 505.3h0M460.3 535.7h0M461.1 505.3h0M461.9 523.5h0M462.7 496.5h0M463.5 525.9h0M464.3 583.2h0M465.1 518.5h0M465.9 528.4h0M466.7 535.7h0M467.5 518.5h0M468.3 521.0h0M469.1 490.1h0M470.0 518.5h0M470.8 533.2h0M471.6 528.4h0M472.4 525.9h0M473.2 530.8h0M474.0 532.3h0M474.8 525.9h0M475.6 528.4h0" stroke-width="4.0"/>
</g>
<g font-size="8.8" text-anchor="end">
<text transform="translate(346.20 592.77) scale(0.8 1)">0.50</text>
<text transform="translate(346.20 568.27) scale(0.8 1)">0.55</text>
<text transform="translate(346.20 543.77) scale(0.8 1)">0.60</text>
<text transform="translate(346.20 519.27) scale(0.8 1)">0.65</text>
<text transform="translate(346.20 494.77) scale(0.8 1)">0.70</text>
</g>
<g font-size="8.8" text-anchor="middle">
<text transform="translate(356.65 610.40) scale(0.8 1)">0</text>
<text transform="translate(392.69 610.40) scale(0.8 1)">50</text>
<text transform="translate(428.72 610.40) scale(0.8 1)">100</text>
</g>
<text transform="translate(392.00 478.40) scale(0.86 1)" font-size="9.0" text-anchor="middle">metrics/mAP50(B)</text>
</g>
<g>
<rect x="463.00" y="482.30" width="76.90" height="114.70" fill="#eaeaf2" stroke="none"/>
<path d="M466.45 482.30V597.00M502.13 482.30V597.00M537.81 482.30V597.00M463.00 594.30H539.90M463.00 572.50H539.90M463.00 550.70H539.90M463.00 528.90H539.90M463.00 507.10H539.90M463.00 485.30H539.90" stroke="#ffffff" stroke-width="0.8" fill="none"/>
<g transform="scale(0.9 1)" fill="none" stroke="#4770b2" stroke-linecap="round" stroke-linejoin="round">
<polyline points="518.3,591.2 519.1,576.0 519.9,581.2 520.7,571.6 521.4,567.3 522.2,559.4 523.0,566.0 523.8,553.8 524.6,563.8 525.4,557.2 526.2,552.9 527.0,559.4 527.8,561.6 528.6,556.1 529.4,550.7 530.2,546.3 531.0,548.5 531.8,544.2 532.6,550.7 533.3,555.1 534.1,548.5 534.9,560.3 535.7,552.9 536.5,550.7 537.3,544.2 538.1,539.8 538.9,538.5 539.7,536.7 540.5,542.0 541.3,544.2 542.1,539.8 542.9,557.2 543.7,546.3 544.4,542.0 545.2,537.6 546.0,535.0 546.8,542.0 547.6,546.3 548.4,539.8 549.2,534.6 550.0,542.0 550.8,550.7 551.6,544.2 552.4,542.0 553.2,548.5 554.0,550.7 554.8,537.6 555.5,526.7 556.3,533.3 557.1,535.4 557.9,528.9 558.7,516.7 559.5,549.0 560.3,531.1 561.1,524.5 561.9,528.9 562.7,533.3 563.5,526.7 564.3,524.5 565.1,542.0 565.9,522.4 566.6,512.8 567.4,520.2 568.2,524.5 569.0,518.0 569.8,512.8 570.6,520.2 571.4,522.4 572.2,491.8 573.0,515.8 573.8,509.3 574.6,493.1 575.4,511.5 576.2,522.4 577.0,509.3 577.7,491.8 578.5,513.6 579.3,515.8 580.1,502.7 580.9,502.7 581.7,518.0 582.5,520.2 583.3,504.9 584.1,495.3 584.9,515.8 585.7,552.0 586.5,513.6 587.3,511.5 588.1,518.0 588.8,520.2 589.6,511.5 590.4,488.4 591.2,509.3 592.0,515.8 592.8,518.0 593.6,513.6 594.4,512.3 595.2,515.8 596.0,518.0 596.8,513.6" stroke-width="1.55"/>
<path d="M518.3 591.2h0M519.1 576.0h0M519.9 581.2h0M520.7 571.6h0M521.4 567.3h0M522.2 559.4h0M523.0 566.0h0M523.8 553.8h0M524.6 563.8h0M525.4 557.2h0M526.2 552.9h0M527.0 559.4h0M527.8 561.6h0M528.6 556.1h0M529.4 550.7h0M530.2 546.3h0M531.0 548.5h0M531.8 544.2h0M532.6 550.7h0M533.3 555.1h0M534.1 548.5h0M534.9 560.3h0M535.7 552.9h0M536.5 550.7h0M537.3 544.2h0M538.1 539.8h0M538.9 538.5h0M539.7 536.7h0M540.5 542.0h0M541.3 544.2h0M542.1 539.8h0M542.9 557.2h0M543.7 546.3h0M544.4 542.0h0M545.2 537.6h0M546.0 535.0h0M546.8 542.0h0M547.6 546.3h0M548.4 539.8h0M549.2 534.6h0M550.0 542.0h0M550.8 550.7h0M551.6 544.2h0M552.4 542.0h0M553.2 548.5h0M554.0 550.7h0M554.8 537.6h0M555.5 526.7h0M556.3 533.3h0M557.1 535.4h0M557.9 528.9h0M558.7 516.7h0M559.5 549.0h0M560.3 531.1h0M561.1 524.5h0M561.9 528.9h0M562.7 533.3h0M563.5 526.7h0M564.3 524.5h0M565.1 542.0h0M565.9 522.4h0M566.6 512.8h0M567.4 520.2h0M568.2 524.5h0M569.0 518.0h0M569.8 512.8h0M570.6 520.2h0M571.4 522.4h0M572.2 491.8h0M573.0 515.8h0M573.8 509.3h0M574.6 493.1h0M575.4 511.5h0M576.2 522.4h0M577.0 509.3h0M577.7 491.8h0M578.5 513.6h0M579.3 515.8h0M580.1 502.7h0M580.9 502.7h0M581.7 518.0h0M582.5 520.2h0M583.3 504.9h0M584.1 495.3h0M584.9 515.8h0M585.7 552.0h0M586.5 513.6h0M587.3 511.5h0M588.1 518.0h0M588.8 520.2h0M589.6 511.5h0M590.4 488.4h0M591.2 509.3h0M592.0 515.8h0M592.8 518.0h0M593.6 513.6h0M594.4 512.3h0M595.2 515.8h0M596.0 518.0h0M596.8 513.6h0" stroke-width="4.0"/>
</g>
<g font-size="8.8" text-anchor="end">
<text transform="translate(456.00 597.47) scale(0.8 1)">0.30</text>
<text transform="translate(456.00 575.67) scale(0.8 1)">0.35</text>
<text transform="translate(456.00 553.87) scale(0.8 1)">0.40</text>
<text transform="translate(456.00 532.07) scale(0.8 1)">0.45</text>
<text transform="translate(456.00 510.27) scale(0.8 1)">0.50</text>
<text transform="translate(456.00 488.47) scale(0.8 1)">0.55</text>
</g>
<g font-size="8.8" text-anchor="middle">
<text transform="translate(466.45 610.40) scale(0.8 1)">0</text>
<text transform="translate(502.13 610.40) scale(0.8 1)">50</text>
<text transform="translate(537.81 610.40) scale(0.8 1)">100</text>
</g>
<text transform="translate(501.45 478.40) scale(0.86 1)" font-size="9.0" text-anchor="middle">metrics/mAP50-95(B)</text>
</g>
</g>
<g font-family="'Liberation Serif', 'DejaVu Serif', serif" font-size="11.4" fill="#000" text-anchor="middle" text-rendering="geometricPrecision">
<text transform="translate(274.6 312.1) scale(0.92 1)">(<tspan font-weight="bold">a</tspan>)</text>
<text transform="translate(274.4 631.5) scale(0.92 1)">(<tspan font-weight="bold">b</tspan>)</text>
</g>
</svg>
</body></html>
